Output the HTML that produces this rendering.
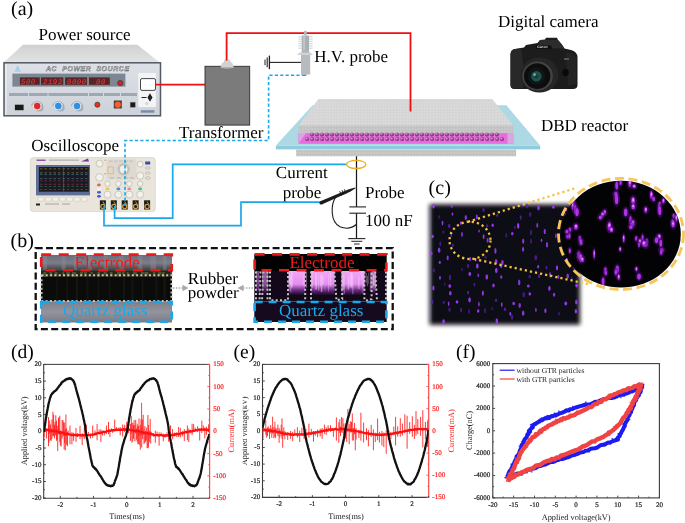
<!DOCTYPE html>
<html><head><meta charset="utf-8"><title>DBD experimental setup figure</title>
<style>
html,body{margin:0;padding:0;background:#fff;}
body{width:685px;height:523px;overflow:hidden;}
svg{display:block;font-family:'Liberation Serif',serif;text-rendering:geometricPrecision;}
</style></head>
<body>
<svg width="685" height="523" viewBox="0 0 685 523">
<defs>
<pattern id="chk" width="4.2" height="4.2" patternUnits="userSpaceOnUse" patternTransform="rotate(45)"><rect width="4.2" height="4.2" fill="#d3d3d3"/><rect width="2.1" height="2.1" fill="#dbdbdb"/><rect x="2.1" y="2.1" width="2.1" height="2.1" fill="#dbdbdb"/></pattern>
<pattern id="chk2" width="4.2" height="4.2" patternUnits="userSpaceOnUse" patternTransform="rotate(45)"><rect width="4.2" height="4.2" fill="#c0c0c0"/><rect width="2.1" height="2.1" fill="#cbcbcb"/><rect x="2.1" y="2.1" width="2.1" height="2.1" fill="#cbcbcb"/></pattern>
<radialGradient id="sph" cx="0.4" cy="0.35" r="0.7"><stop offset="0" stop-color="#d9a0d0"/><stop offset="0.5" stop-color="#9b4d92"/><stop offset="1" stop-color="#5e2558"/></radialGradient>
<linearGradient id="pstop" x1="0" y1="0" x2="0" y2="1"><stop offset="0" stop-color="#d0d0d0"/><stop offset="1" stop-color="#e4e4e4"/></linearGradient>
<linearGradient id="pfront" x1="0" y1="0" x2="0" y2="1"><stop offset="0" stop-color="#dde1e7"/><stop offset="1" stop-color="#cdd2d9"/></linearGradient>
<filter id="blur1" x="-10%" y="-10%" width="120%" height="120%"><feGaussianBlur stdDeviation="2"/></filter>
<filter id="blur05"><feGaussianBlur stdDeviation="0.5"/></filter>
<filter id="glow" x="-50%" y="-50%" width="200%" height="200%"><feGaussianBlur stdDeviation="0.6"/></filter>
<clipPath id="bigc"><ellipse cx="621" cy="234.2" rx="59.8" ry="53.4"/></clipPath>
<clipPath id="cimg"><rect x="429" y="204" width="151" height="121"/></clipPath>
</defs>
<text x="11" y="15.2" font-size="20" fill="#000" text-anchor="start" >(a)</text>
<text x="38.5" y="39.8" font-size="17" fill="#000" text-anchor="start" >Power source</text>
<text x="498" y="26.8" font-size="17" fill="#000" text-anchor="start" >Digital camera</text>
<text x="314.3" y="61.8" font-size="17" fill="#000" text-anchor="start" >H.V. probe</text>
<text x="179" y="137.7" font-size="17" fill="#000" text-anchor="start" >Transformer</text>
<text x="31.2" y="151.2" font-size="17" fill="#000" text-anchor="start" >Oscilloscope</text>
<text x="540.9" y="130.7" font-size="17" fill="#000" text-anchor="start" >DBD reactor</text>
<text x="275.8" y="177.7" font-size="17" fill="#000" text-anchor="start" >Current</text>
<text x="282.7" y="197.7" font-size="17" fill="#000" text-anchor="start" >probe</text>
<text x="365" y="197.7" font-size="17" fill="#000" text-anchor="start" >Probe</text>
<text x="365" y="226.3" font-size="17" fill="#000" text-anchor="start" >100 nF</text>
<polygon points="23,44.7 137.3,44.7 160.5,63 3,63" fill="url(#pstop)"/>
<rect x="4" y="62.8" width="156.5" height="53" fill="url(#pfront)" stroke="#535962" stroke-width="1.5"/>
<line x1="6" y1="64" x2="6" y2="115" stroke="#f2f4f6" stroke-width="1"/>
<polygon points="17.6,65 21,71.8 14.3,71.8" fill="#a9cfe8"/>
<text x="46" y="71.2" font-size="7" font-style="italic" font-weight="bold" fill="#c8ccd2" stroke="#555" stroke-width="0.35" letter-spacing="0.55" word-spacing="2.5" font-family="'Liberation Sans',sans-serif">AC POWER SOURCE</text>
<rect x="12.4" y="73.6" width="113" height="13" fill="#7d8794"/>
<rect x="19.9" y="77.4" width="19.8" height="7.4" fill="#5a2326"/>
<rect x="41" y="77.4" width="22.3" height="7.4" fill="#5a2326"/>
<rect x="65.1" y="77.4" width="21.9" height="7.4" fill="#5a2326"/>
<rect x="89" y="77.4" width="20.8" height="7.4" fill="#5a2326"/>
<text x="21" y="83.9" font-size="7.2" font-style="italic" fill="#ff3a3a" font-family="'Liberation Mono',monospace" letter-spacing="0.6">500</text>
<text x="43" y="83.9" font-size="7.2" font-style="italic" fill="#ff3a3a" font-family="'Liberation Mono',monospace" letter-spacing="0.6">2193</text>
<text x="67" y="83.9" font-size="7.2" font-style="italic" fill="#ff3a3a" font-family="'Liberation Mono',monospace" letter-spacing="0.6">0000</text>
<text x="96" y="83.9" font-size="7.2" font-style="italic" fill="#ff3a3a" font-family="'Liberation Mono',monospace" letter-spacing="0.6">00</text>
<circle cx="120.3" cy="83" r="2.6" fill="#e02020" stroke="#3a3a3a" stroke-width="0.8"/>
<rect x="9" y="93" width="19" height="3" fill="#9ea8b4"/>
<rect x="29" y="93" width="18.5" height="3" fill="#9ea8b4"/>
<rect x="48.5" y="93" width="39.5" height="3" fill="#9ea8b4"/>
<rect x="89" y="93" width="14" height="3" fill="#9ea8b4"/>
<rect x="104" y="93" width="16" height="3" fill="#9ea8b4"/>
<rect x="121" y="93" width="16" height="3" fill="#9ea8b4"/>
<ellipse cx="39.400000000000006" cy="108" rx="4.2" ry="3.6" fill="#8a8f96" opacity="0.55"/>
<path d="M31.6,106 A5.8,5.8 0 0 1 42.800000000000004,106" fill="none" stroke="#6a6f76" stroke-width="0.5"/>
<circle cx="37.2" cy="106" r="3.9" fill="#e02828" stroke="#f4f4f4" stroke-width="0.9"/>
<ellipse cx="60.5" cy="108" rx="4.2" ry="3.6" fill="#8a8f96" opacity="0.55"/>
<path d="M52.699999999999996,106 A5.8,5.8 0 0 1 63.9,106" fill="none" stroke="#6a6f76" stroke-width="0.5"/>
<circle cx="58.3" cy="106" r="3.9" fill="#2f8fe0" stroke="#f4f4f4" stroke-width="0.9"/>
<ellipse cx="79.2" cy="108" rx="4.2" ry="3.6" fill="#8a8f96" opacity="0.55"/>
<path d="M71.4,106 A5.8,5.8 0 0 1 82.6,106" fill="none" stroke="#6a6f76" stroke-width="0.5"/>
<circle cx="77" cy="106" r="3.9" fill="#2f8fe0" stroke="#f4f4f4" stroke-width="0.9"/>
<rect x="14.9" y="104.7" width="8.7" height="5.5" fill="#1a1a1a"/>
<circle cx="97.4" cy="104.7" r="2.6" fill="#e83020" stroke="#333" stroke-width="0.6"/>
<rect x="113.8" y="100.5" width="8" height="8" fill="#4a3a3a"/>
<circle cx="117.8" cy="104.7" r="3.1" fill="#ff5a2a"/>
<rect x="130.2" y="102.2" width="5" height="5" fill="#1a1a1a" stroke="#777" stroke-width="0.5"/>
<rect x="138.3" y="73" width="17.6" height="34.1" fill="#f4f4f4"/>
<rect x="140.5" y="78.6" width="15" height="11.8" rx="1.5" fill="#fff" stroke="#333" stroke-width="0.9"/>
<path d="M141.5,97.5 h5 M150,94.5 l1.5,2.5 h-3 z M150,100.5 l1.5,-2.5 h-3 z" stroke="#222" fill="#222" stroke-width="1.2"/>
<circle cx="146.8" cy="103.5" r="1" fill="none" stroke="#888" stroke-width="0.4"/>
<rect x="140.8" y="110.2" width="13.6" height="2.5" fill="#7a8aa8"/>
<line x1="155" y1="84.6" x2="205" y2="84.6" stroke="#f01010" stroke-width="1.8"/>
<rect x="205" y="66.3" width="44.7" height="58.8" fill="#7b7b7b" stroke="#2e2e2e" stroke-width="0.9"/>
<path d="M220.8,67.6 C220.8,64 222,62.6 223.8,61.9 L224.6,59.5 L229.8,59.5 L230.6,61.9 C232.4,62.6 233.6,64 233.6,67.6 Z" fill="#d2d2d2"/>
<path d="M220.8,66.2 C224,67.8 230,67.8 233.6,66.2 L233.6,67.6 C230,69 224,69 220.8,67.6 Z" fill="#b8b8b8"/>
<line x1="269.4" y1="62.4" x2="301" y2="62.4" stroke="#222" stroke-width="1.1"/>
<line x1="269.4" y1="55.6" x2="269.4" y2="69.2" stroke="#222" stroke-width="1.3"/>
<line x1="267.2" y1="57.6" x2="267.2" y2="67.2" stroke="#222" stroke-width="1.1"/>
<line x1="265.0" y1="59.6" x2="265.0" y2="65.2" stroke="#222" stroke-width="1"/>
<polygon points="312.6,105.2 506.3,105.2 540.2,145.6 275.9,145.6" fill="#acd9e4"/>
<rect x="275.9" y="145.6" width="264.3" height="3.8" fill="#8fcbdb"/>
<polygon points="318.4,98.9 492.3,98.9 513.3,125.8 298.5,125.8" fill="url(#chk)"/>
<rect x="298.5" y="125.4" width="214.8" height="7.9" fill="url(#chk2)"/>
<rect x="298.5" y="133.1" width="214.8" height="10.7" fill="#ea6ae2"/>
<polygon points="298.5,133.1 306,133.1 298.5,143.8" fill="#d9a6e0"/>
<rect x="507.5" y="133.1" width="5.8" height="10.7" fill="#d9a6e0"/>
<g fill="url(#sph)"><circle cx="311.9" cy="134.4" r="2"/><circle cx="316.9" cy="134.4" r="2"/><circle cx="321.9" cy="134.4" r="2"/><circle cx="326.9" cy="134.4" r="2"/><circle cx="331.9" cy="134.4" r="2"/><circle cx="336.9" cy="134.4" r="2"/><circle cx="341.9" cy="134.4" r="2"/><circle cx="346.9" cy="134.4" r="2"/><circle cx="351.9" cy="134.4" r="2"/><circle cx="356.9" cy="134.4" r="2"/><circle cx="361.9" cy="134.4" r="2"/><circle cx="366.9" cy="134.4" r="2"/><circle cx="371.9" cy="134.4" r="2"/><circle cx="376.9" cy="134.4" r="2"/><circle cx="381.9" cy="134.4" r="2"/><circle cx="386.9" cy="134.4" r="2"/><circle cx="391.9" cy="134.4" r="2"/><circle cx="396.9" cy="134.4" r="2"/><circle cx="401.9" cy="134.4" r="2"/><circle cx="406.9" cy="134.4" r="2"/><circle cx="411.9" cy="134.4" r="2"/><circle cx="416.9" cy="134.4" r="2"/><circle cx="421.9" cy="134.4" r="2"/><circle cx="426.9" cy="134.4" r="2"/><circle cx="431.9" cy="134.4" r="2"/><circle cx="436.9" cy="134.4" r="2"/><circle cx="441.9" cy="134.4" r="2"/><circle cx="446.9" cy="134.4" r="2"/><circle cx="451.9" cy="134.4" r="2"/><circle cx="456.9" cy="134.4" r="2"/><circle cx="461.9" cy="134.4" r="2"/><circle cx="466.9" cy="134.4" r="2"/><circle cx="471.9" cy="134.4" r="2"/><circle cx="476.9" cy="134.4" r="2"/><circle cx="481.9" cy="134.4" r="2"/><circle cx="486.9" cy="134.4" r="2"/><circle cx="491.9" cy="134.4" r="2"/><circle cx="496.9" cy="134.4" r="2"/><circle cx="307.1" cy="139.1" r="2"/><circle cx="312.1" cy="139.1" r="2"/><circle cx="317.1" cy="139.1" r="2"/><circle cx="322.1" cy="139.1" r="2"/><circle cx="327.1" cy="139.1" r="2"/><circle cx="332.1" cy="139.1" r="2"/><circle cx="337.1" cy="139.1" r="2"/><circle cx="342.1" cy="139.1" r="2"/><circle cx="347.1" cy="139.1" r="2"/><circle cx="352.1" cy="139.1" r="2"/><circle cx="357.1" cy="139.1" r="2"/><circle cx="362.1" cy="139.1" r="2"/><circle cx="367.1" cy="139.1" r="2"/><circle cx="372.1" cy="139.1" r="2"/><circle cx="377.1" cy="139.1" r="2"/><circle cx="382.1" cy="139.1" r="2"/><circle cx="387.1" cy="139.1" r="2"/><circle cx="392.1" cy="139.1" r="2"/><circle cx="397.1" cy="139.1" r="2"/><circle cx="402.1" cy="139.1" r="2"/><circle cx="407.1" cy="139.1" r="2"/><circle cx="412.1" cy="139.1" r="2"/><circle cx="417.1" cy="139.1" r="2"/><circle cx="422.1" cy="139.1" r="2"/><circle cx="427.1" cy="139.1" r="2"/><circle cx="432.1" cy="139.1" r="2"/><circle cx="437.1" cy="139.1" r="2"/><circle cx="442.1" cy="139.1" r="2"/><circle cx="447.1" cy="139.1" r="2"/><circle cx="452.1" cy="139.1" r="2"/><circle cx="457.1" cy="139.1" r="2"/><circle cx="462.1" cy="139.1" r="2"/><circle cx="467.1" cy="139.1" r="2"/><circle cx="472.1" cy="139.1" r="2"/><circle cx="477.1" cy="139.1" r="2"/><circle cx="482.1" cy="139.1" r="2"/><circle cx="487.1" cy="139.1" r="2"/><circle cx="492.1" cy="139.1" r="2"/><circle cx="497.1" cy="139.1" r="2"/><circle cx="502.1" cy="139.1" r="2"/></g>
<rect x="296.1" y="149.6" width="220" height="6.7" fill="url(#chk2)"/>
<polyline points="226.6,60.5 226.6,33.2 410.5,33.2 410.5,111.5" fill="none" stroke="#f01010" stroke-width="1.8"/>
<rect x="304" y="30.8" width="2.8" height="4.5" rx="1" fill="#b4b8bb"/>
<rect x="298.4" y="36.0" width="14.2" height="1.5" fill="#dde0e3"/>
<rect x="298.4" y="38.3" width="14.2" height="1.5" fill="#dde0e3"/>
<rect x="298.4" y="40.6" width="14.2" height="1.5" fill="#dde0e3"/>
<rect x="298.4" y="42.9" width="14.2" height="1.5" fill="#dde0e3"/>
<rect x="298.4" y="45.2" width="14.2" height="1.5" fill="#dde0e3"/>
<rect x="298.4" y="47.5" width="14.2" height="1.5" fill="#dde0e3"/>
<rect x="301.8" y="35.5" width="7.2" height="14.5" fill="#a9aeb2"/>
<rect x="302.8" y="35.5" width="2.5" height="14.5" fill="#bfc3c6"/>
<polygon points="297,55 313,55 310.5,52.6 299.5,52.6" fill="#cfd3d6"/>
<rect x="301.6" y="49.8" width="7.6" height="3" fill="#b0b5b9"/>
<rect x="301" y="55" width="9.2" height="19.5" fill="#b7bbbf"/>
<rect x="305" y="74.3" width="1.4" height="1.8" fill="#c08a4a"/>
<g>
<path d="M510.5,54 Q511,49.5 515,49 L524,47.5 L526,45 L537.5,43 L540,40 L545,39.5 L546,37.8 L557,37.8 L558,40 Q561,43 564.5,48.5 L571,50 Q577,51.5 577.5,57 L577.5,85 Q577.5,89 573,89 L515,89 Q510.5,89 510.5,85 Z" fill="#1c1c1c"/>
<path d="M510.5,54 Q511,49.5 515,49 L521,48.5 Q524,60 523,88 L515,89 Q510.5,89 510.5,85 Z" fill="#282828"/>
<path d="M540,40 L558,40 Q561,43 564.5,48.5 L537.5,48 Z" fill="#2c2c2c"/>
<path d="M566,52 Q574,53 576,58 L576,84 L568,86 Z" fill="#242424"/>
<rect x="536" y="45.6" width="15.5" height="3.2" fill="#0e0e0e"/>
<text x="537" y="48.3" font-size="3.4" font-weight="bold" fill="#d8d8d8" font-family="'Liberation Sans',sans-serif">Canon</text>
<rect x="564" y="58" width="5" height="2" fill="#555"/>
<ellipse cx="539.4" cy="75" rx="19" ry="17.6" fill="#262626"/>
<ellipse cx="537.6" cy="76" rx="15.2" ry="14.6" fill="#444"/>
<ellipse cx="537.2" cy="76.2" rx="13.2" ry="12.9" fill="#0d0d0d"/>
<ellipse cx="536.6" cy="76.2" rx="8.6" ry="8.6" fill="#0f1616"/>
<ellipse cx="536.4" cy="76.2" rx="5.2" ry="5.2" fill="#1d5250"/>
<circle cx="536.4" cy="76.4" r="2.2" fill="#2a3a2a"/>
<circle cx="534.6" cy="74.6" r="1.3" fill="#6bb"/>
<ellipse cx="565.5" cy="72.5" rx="3.2" ry="3.8" fill="#0a0a0a"/>
</g>
<rect x="30.3" y="157.6" width="125" height="54" rx="3" fill="#e9e5dc" stroke="#d0cbc0" stroke-width="0.6"/>
<rect x="36" y="165" width="54" height="30.4" fill="#5d6e96"/>
<rect x="38.9" y="167" width="49.9" height="24.7" fill="#1c1a20"/>
<rect x="36.6" y="159.5" width="9" height="1.5" fill="#8a5aa0"/>
<rect x="49" y="159.5" width="30" height="1.3" fill="#b8b0b8"/>
<polygon points="81,161.5 88,158.5 89,161.5" fill="#6a3a9a"/>
<line x1="40" y1="168.8" x2="88" y2="168.8" stroke="#e8d040" stroke-width="0.7" stroke-dasharray="2.5,2" opacity="0.55"/>
<line x1="40" y1="172.8" x2="88" y2="172.8" stroke="#e8d040" stroke-width="0.7" stroke-dasharray="2.5,2" opacity="0.55"/>
<line x1="40" y1="174.5" x2="88" y2="174.5" stroke="#40c0e0" stroke-width="0.7" stroke-dasharray="2.5,2" opacity="0.55"/>
<line x1="40" y1="178.5" x2="88" y2="178.5" stroke="#40c0e0" stroke-width="0.7" stroke-dasharray="2.5,2" opacity="0.55"/>
<line x1="40" y1="180.8" x2="88" y2="180.8" stroke="#e04080" stroke-width="0.7" stroke-dasharray="2.5,2" opacity="0.55"/>
<line x1="40" y1="184.3" x2="88" y2="184.3" stroke="#e04080" stroke-width="0.7" stroke-dasharray="2.5,2" opacity="0.55"/>
<line x1="40" y1="186.6" x2="88" y2="186.6" stroke="#40c060" stroke-width="0.7" stroke-dasharray="2.5,2" opacity="0.55"/>
<line x1="40" y1="189.4" x2="88" y2="189.4" stroke="#40c060" stroke-width="0.7" stroke-dasharray="2.5,2" opacity="0.55"/>
<line x1="63.5" y1="167" x2="63.5" y2="191.7" stroke="#777" stroke-width="0.4"/>
<rect x="38.0" y="197.2" width="6" height="4" rx="0.8" fill="#f3f0ea" stroke="#c9c3b6" stroke-width="0.5"/>
<rect x="45.2" y="197.2" width="6" height="4" rx="0.8" fill="#f3f0ea" stroke="#c9c3b6" stroke-width="0.5"/>
<rect x="52.4" y="197.2" width="6" height="4" rx="0.8" fill="#f3f0ea" stroke="#c9c3b6" stroke-width="0.5"/>
<rect x="59.6" y="197.2" width="6" height="4" rx="0.8" fill="#f3f0ea" stroke="#c9c3b6" stroke-width="0.5"/>
<rect x="66.8" y="197.2" width="6" height="4" rx="0.8" fill="#f3f0ea" stroke="#c9c3b6" stroke-width="0.5"/>
<rect x="74.0" y="197.2" width="6" height="4" rx="0.8" fill="#f3f0ea" stroke="#c9c3b6" stroke-width="0.5"/>
<rect x="81.2" y="197.2" width="6" height="4" rx="0.8" fill="#f3f0ea" stroke="#c9c3b6" stroke-width="0.5"/>
<rect x="36" y="203.5" width="4" height="2" fill="#222"/>
<path d="M45,204 h14 M62,204 h8" stroke="#9a948a" stroke-width="0.8"/>
<rect x="106.5" y="159.3" width="30" height="20.5" rx="2" fill="#dedad2"/>
<circle cx="123.6" cy="169.3" r="6.3" fill="#c9c5bd"/>
<circle cx="123.6" cy="169.3" r="4.4" fill="#f2f0eb" stroke="#a9a49a" stroke-width="0.6"/>
<rect x="108" y="167" width="5.2" height="6.9" fill="none" stroke="#e0a060" stroke-width="0.6"/>
<circle cx="105.2" cy="160.2" r="0.7" fill="#e08030"/><circle cx="105.2" cy="173.8" r="0.7" fill="#e08030"/>
<rect x="109" y="160.2" width="4" height="2" rx="0.8" fill="#cfcac0"/>
<rect x="114" y="160.2" width="4" height="2" rx="0.8" fill="#cfcac0"/>
<rect x="119" y="160.2" width="4" height="2" rx="0.8" fill="#cfcac0"/>
<rect x="124" y="160.2" width="4" height="2" rx="0.8" fill="#cfcac0"/>
<rect x="129" y="160.2" width="4" height="2" rx="0.8" fill="#cfcac0"/>
<rect x="109.8" y="177" width="4.4" height="1.8" rx="0.8" fill="#c8c3b8"/>
<rect x="116.8" y="177" width="4.4" height="1.8" rx="0.8" fill="#c8c3b8"/>
<rect x="123.8" y="177" width="4.4" height="1.8" rx="0.8" fill="#c8c3b8"/>
<rect x="129.8" y="177" width="4.4" height="1.8" rx="0.8" fill="#c8c3b8"/>
<circle cx="99.5" cy="163.6" r="3.4" fill="#f3f1ec" stroke="#b3ada0" stroke-width="0.6"/>
<circle cx="99.5" cy="177.4" r="3.8" fill="#f3f1ec" stroke="#b3ada0" stroke-width="0.6"/>
<circle cx="140.2" cy="164.2" r="3" fill="#f3f1ec" stroke="#b3ada0" stroke-width="0.6"/>
<circle cx="140.2" cy="175.7" r="3.6" fill="#f3f1ec" stroke="#b3ada0" stroke-width="0.6"/>
<circle cx="107.5" cy="183.7" r="2.7" fill="#f3f1ec" stroke="#b3ada0" stroke-width="0.6"/>
<circle cx="118.4" cy="183.7" r="2.7" fill="#f3f1ec" stroke="#b3ada0" stroke-width="0.6"/>
<circle cx="129.3" cy="183.7" r="2.7" fill="#f3f1ec" stroke="#b3ada0" stroke-width="0.6"/>
<circle cx="140.2" cy="183.7" r="2.7" fill="#f3f1ec" stroke="#b3ada0" stroke-width="0.6"/>
<circle cx="107.5" cy="194.6" r="3.5" fill="#f3f1ec" stroke="#b3ada0" stroke-width="0.6"/>
<circle cx="118.4" cy="194.6" r="3.5" fill="#f3f1ec" stroke="#b3ada0" stroke-width="0.6"/>
<circle cx="129.3" cy="194.6" r="3.5" fill="#f3f1ec" stroke="#b3ada0" stroke-width="0.6"/>
<circle cx="140.2" cy="194.6" r="3.5" fill="#f3f1ec" stroke="#b3ada0" stroke-width="0.6"/>
<ellipse cx="98.9" cy="185" rx="2" ry="1.4" fill="#e06a5a"/>
<ellipse cx="98.9" cy="188.9" rx="2" ry="1.4" fill="#f4f2ee"/>
<ellipse cx="107.5" cy="188.9" rx="2" ry="1.4" fill="#e8d040"/>
<ellipse cx="118.4" cy="188.9" rx="2" ry="1.4" fill="#4a8ae0"/>
<ellipse cx="129.3" cy="188.9" rx="2" ry="1.4" fill="#e090a0"/>
<ellipse cx="140.2" cy="188.9" rx="2" ry="1.4" fill="#40c0a0"/>
<ellipse cx="99" cy="192.3" rx="2" ry="1.4" fill="#4a5ad0"/>
<ellipse cx="99" cy="196.3" rx="2" ry="1.4" fill="#4a5ad0"/>
<ellipse cx="147.7" cy="168" rx="2.4" ry="1.3" fill="#e4e0d8" stroke="#a8a296" stroke-width="0.5"/>
<ellipse cx="147.7" cy="173" rx="2.4" ry="1.3" fill="#e4e0d8" stroke="#a8a296" stroke-width="0.5"/>
<ellipse cx="147.7" cy="178" rx="2.4" ry="1.3" fill="#e4e0d8" stroke="#a8a296" stroke-width="0.5"/>
<rect x="145.2" y="161.5" width="5" height="3" fill="#3a4ab0"/>
<rect x="99.9" y="200.3" width="6" height="9.2" fill="#1d1a14"/>
<circle cx="102.9" cy="206.4" r="2.1" fill="none" stroke="#c8a050" stroke-width="1.2"/>
<line x1="102.9" y1="201.5" x2="104.7" y2="204.5" stroke="#c8a050" stroke-width="0.9"/>
<rect x="110.8" y="200.3" width="6" height="9.2" fill="#1d1a14"/>
<circle cx="113.8" cy="206.4" r="2.1" fill="none" stroke="#c8a050" stroke-width="1.2"/>
<line x1="113.8" y1="201.5" x2="115.6" y2="204.5" stroke="#c8a050" stroke-width="0.9"/>
<rect x="121.7" y="200.3" width="6" height="9.2" fill="#1d1a14"/>
<circle cx="124.7" cy="206.4" r="2.1" fill="none" stroke="#c8a050" stroke-width="1.2"/>
<line x1="124.7" y1="201.5" x2="126.5" y2="204.5" stroke="#c8a050" stroke-width="0.9"/>
<rect x="132.6" y="200.3" width="6" height="9.2" fill="#1d1a14"/>
<circle cx="135.6" cy="206.4" r="2.1" fill="none" stroke="#c8a050" stroke-width="1.2"/>
<line x1="135.6" y1="201.5" x2="137.4" y2="204.5" stroke="#c8a050" stroke-width="0.9"/>
<rect x="144.1" y="200.3" width="6" height="9.2" fill="#1d1a14"/>
<circle cx="147.1" cy="206.4" r="2.1" fill="none" stroke="#c8a050" stroke-width="1.2"/>
<line x1="147.1" y1="201.5" x2="148.9" y2="204.5" stroke="#c8a050" stroke-width="0.9"/>
<polyline points="305,75.2 268.6,75.2 268.6,140.5 125,140.5 125,206" fill="none" stroke="#1aa8e8" stroke-width="1.6" stroke-dasharray="3.2,2.2"/>
<polyline points="114.6,206 114.6,218.2 172.7,218.2 172.7,164.4 346.5,164.4" fill="none" stroke="#1aa8e8" stroke-width="1.7"/>
<polyline points="104,206 104,225.7 241,225.7 241,202.2 321.5,202.2" fill="none" stroke="#1aa8e8" stroke-width="1.7"/>
<line x1="356.5" y1="156.3" x2="356.5" y2="206.9" stroke="#1a1a1a" stroke-width="1.25"/>
<line x1="356.5" y1="213.2" x2="356.5" y2="238.6" stroke="#1a1a1a" stroke-width="1.25"/>
<line x1="349.3" y1="206.9" x2="366" y2="206.9" stroke="#222" stroke-width="1.1"/>
<line x1="349.3" y1="213.2" x2="366" y2="213.2" stroke="#222" stroke-width="1.1"/>
<line x1="348.3" y1="238.6" x2="365.3" y2="238.6" stroke="#222" stroke-width="1.1"/>
<line x1="351.3" y1="241.3" x2="362.3" y2="241.3" stroke="#222" stroke-width="1"/>
<line x1="354" y1="244" x2="359.6" y2="244" stroke="#222" stroke-width="1"/>
<ellipse cx="356.2" cy="164.4" rx="9.6" ry="4.1" fill="none" stroke="#e8b020" stroke-width="1.3"/>
<path d="M320.3,201.15 L348.9,189.2 L355.2,187.5 L355.6,188.3 L350.1,191.7 L321.7,204.45 Z" fill="#1c1c1c"/>
<circle cx="321" cy="202.9" r="1.65" fill="#1c1c1c"/>
<path d="M339.7,191.2 l1.9,4.4 M342,190.2 l1.9,4.4 M344.3,189.3 l1.9,4.4" stroke="#111" stroke-width="0.9"/>
<path d="M336.4,196 C330,205 330.5,222 340,226.8 C346,229.2 352.5,228 356.8,224" fill="none" stroke="#1a1a1a" stroke-width="1.1"/>
<text x="10.5" y="246.6" font-size="20" fill="#000" text-anchor="start" >(b)</text>
<defs>
<linearGradient id="lel" x1="0" y1="0" x2="0" y2="1"><stop offset="0" stop-color="#6c6d78"/><stop offset="0.5" stop-color="#7c7d88"/><stop offset="1" stop-color="#3a3a38"/></linearGradient>
<linearGradient id="lqz" x1="0" y1="0" x2="0" y2="1"><stop offset="0" stop-color="#7e7f8a"/><stop offset="0.5" stop-color="#93949e"/><stop offset="1" stop-color="#7a7b86"/></linearGradient>
<linearGradient id="rmid" x1="0" y1="0" x2="0" y2="1"><stop offset="0" stop-color="#f3a6f5"/><stop offset="0.55" stop-color="#e48ef0"/><stop offset="0.8" stop-color="#6a2a80"/><stop offset="1" stop-color="#1a0a22"/></linearGradient>
</defs>
<rect x="41" y="255" width="131" height="16" fill="url(#lel)"/>
<rect x="41" y="271" width="131" height="30.5" fill="#0b0b09"/>
<rect x="41" y="271" width="131" height="6" fill="#2a2a18" opacity="0.9"/>
<rect x="43.4" y="272" width="2.9" height="4.8" fill="#6a6438" opacity="0.7"/>
<rect x="49.4" y="272" width="2.8" height="3.8" fill="#6a6438" opacity="0.7"/>
<rect x="54.6" y="272" width="2.8" height="3.9" fill="#6a6438" opacity="0.7"/>
<rect x="62.4" y="272" width="1.7" height="2.9" fill="#6a6438" opacity="0.7"/>
<rect x="66.3" y="272" width="3.5" height="4.1" fill="#6a6438" opacity="0.7"/>
<rect x="72.1" y="272" width="4.0" height="4.9" fill="#6a6438" opacity="0.7"/>
<rect x="80.0" y="272" width="3.0" height="2.5" fill="#6a6438" opacity="0.7"/>
<rect x="84.0" y="272" width="2.8" height="2.2" fill="#6a6438" opacity="0.7"/>
<rect x="90.6" y="272" width="2.1" height="2.1" fill="#6a6438" opacity="0.7"/>
<rect x="97.4" y="272" width="2.6" height="4.5" fill="#6a6438" opacity="0.7"/>
<rect x="103.6" y="272" width="3.1" height="3.5" fill="#6a6438" opacity="0.7"/>
<rect x="110.0" y="272" width="2.6" height="2.8" fill="#6a6438" opacity="0.7"/>
<rect x="117.0" y="272" width="4.0" height="4.5" fill="#6a6438" opacity="0.7"/>
<rect x="122.1" y="272" width="2.3" height="2.7" fill="#6a6438" opacity="0.7"/>
<rect x="126.9" y="272" width="1.7" height="4.3" fill="#6a6438" opacity="0.7"/>
<rect x="133.2" y="272" width="3.6" height="3.2" fill="#6a6438" opacity="0.7"/>
<rect x="140.9" y="272" width="3.6" height="2.0" fill="#6a6438" opacity="0.7"/>
<rect x="144.6" y="272" width="3.8" height="3.4" fill="#6a6438" opacity="0.7"/>
<rect x="152.9" y="272" width="2.5" height="2.2" fill="#6a6438" opacity="0.7"/>
<rect x="157.9" y="272" width="3.4" height="2.8" fill="#6a6438" opacity="0.7"/>
<rect x="162.3" y="272" width="2.3" height="4.9" fill="#6a6438" opacity="0.7"/>
<rect x="170.3" y="272" width="1.8" height="2.7" fill="#6a6438" opacity="0.7"/>
<rect x="42.4" y="277" width="1.1" height="23" fill="#1a1a1a" opacity="0.6"/>
<rect x="56.2" y="277" width="1.3" height="23" fill="#1a1a1a" opacity="0.6"/>
<rect x="66.2" y="277" width="1.7" height="23" fill="#1a1a1a" opacity="0.6"/>
<rect x="75.8" y="277" width="2.1" height="23" fill="#1a1a1a" opacity="0.6"/>
<rect x="86.5" y="277" width="2.0" height="23" fill="#1a1a1a" opacity="0.6"/>
<rect x="97.5" y="277" width="1.6" height="23" fill="#1a1a1a" opacity="0.6"/>
<rect x="108.9" y="277" width="1.4" height="23" fill="#1a1a1a" opacity="0.6"/>
<rect x="122.9" y="277" width="2.2" height="23" fill="#1a1a1a" opacity="0.6"/>
<rect x="131.2" y="277" width="2.3" height="23" fill="#1a1a1a" opacity="0.6"/>
<rect x="141.8" y="277" width="1.6" height="23" fill="#1a1a1a" opacity="0.6"/>
<rect x="155.4" y="277" width="2.0" height="23" fill="#1a1a1a" opacity="0.6"/>
<rect x="163.4" y="277" width="2.5" height="23" fill="#1a1a1a" opacity="0.6"/>
<rect x="41" y="301.5" width="131" height="21" fill="url(#lqz)"/>
<rect x="43.3" y="256" width="3.8" height="14" fill="#8a8b96" opacity="0.45"/>
<rect x="61.6" y="256" width="4.0" height="14" fill="#8a8b96" opacity="0.45"/>
<rect x="73.8" y="256" width="3.2" height="14" fill="#8a8b96" opacity="0.45"/>
<rect x="87.5" y="256" width="4.7" height="14" fill="#8a8b96" opacity="0.45"/>
<rect x="103.5" y="256" width="4.8" height="14" fill="#8a8b96" opacity="0.45"/>
<rect x="119.2" y="256" width="4.4" height="14" fill="#8a8b96" opacity="0.45"/>
<rect x="137.8" y="256" width="4.5" height="14" fill="#8a8b96" opacity="0.45"/>
<rect x="150.4" y="256" width="5.6" height="14" fill="#8a8b96" opacity="0.45"/>
<rect x="163.1" y="256" width="3.5" height="14" fill="#8a8b96" opacity="0.45"/>
<rect x="254.3" y="254" width="132.4" height="17" fill="#030203"/>
<rect x="254.3" y="271" width="132.4" height="30.5" fill="#12081a"/>
<rect x="288.5" y="271" width="16.5" height="24" fill="url(#rmid)" opacity="1"/>
<rect x="311" y="271" width="23.5" height="24" fill="url(#rmid)" opacity="1"/>
<rect x="342" y="271" width="22.5" height="24" fill="url(#rmid)" opacity="1"/>
<rect x="371.5" y="271" width="4.0" height="24" fill="url(#rmid)" opacity="0.7"/>
<rect x="262" y="271" width="6" height="24" fill="url(#rmid)" opacity="0.55"/>
<rect x="256" y="271" width="3" height="24" fill="url(#rmid)" opacity="0.4"/>
<rect x="367.0" y="275.9" width="0.8" height="10.3" fill="#ffd8ff" opacity="0.42"/>
<rect x="369.8" y="272.2" width="1.6" height="18.6" fill="#ffd8ff" opacity="0.38"/>
<rect x="324.7" y="271.6" width="0.6" height="19.6" fill="#ffd8ff" opacity="0.27"/>
<rect x="349.3" y="272.5" width="1.4" height="15.2" fill="#ffd8ff" opacity="0.29"/>
<rect x="303.3" y="275.3" width="0.7" height="10.7" fill="#ffd8ff" opacity="0.37"/>
<rect x="362.2" y="274.7" width="0.9" height="19.0" fill="#ffd8ff" opacity="0.26"/>
<rect x="289.4" y="272.6" width="1.0" height="8.7" fill="#ffd8ff" opacity="0.25"/>
<rect x="320.1" y="274.4" width="0.7" height="12.3" fill="#ffd8ff" opacity="0.47"/>
<rect x="373.3" y="274.9" width="1.3" height="15.0" fill="#ffd8ff" opacity="0.24"/>
<rect x="291.1" y="271.1" width="1.5" height="16.4" fill="#ffd8ff" opacity="0.49"/>
<rect x="289.8" y="274.8" width="1.1" height="16.8" fill="#ffd8ff" opacity="0.30"/>
<rect x="374.9" y="271.5" width="1.1" height="16.8" fill="#ffd8ff" opacity="0.47"/>
<rect x="352.1" y="275.2" width="1.4" height="19.0" fill="#ffd8ff" opacity="0.31"/>
<rect x="347.6" y="276.4" width="1.5" height="13.0" fill="#ffd8ff" opacity="0.44"/>
<rect x="363.1" y="274.4" width="1.2" height="12.6" fill="#ffd8ff" opacity="0.37"/>
<rect x="341.0" y="271.5" width="1.2" height="19.9" fill="#ffd8ff" opacity="0.46"/>
<rect x="351.4" y="273.3" width="1.3" height="15.0" fill="#ffd8ff" opacity="0.33"/>
<rect x="360.9" y="271.5" width="1.4" height="8.4" fill="#ffd8ff" opacity="0.38"/>
<rect x="329.8" y="272.4" width="1.3" height="14.0" fill="#ffd8ff" opacity="0.38"/>
<rect x="368.1" y="272.5" width="0.6" height="11.6" fill="#ffd8ff" opacity="0.40"/>
<rect x="305.6" y="272.0" width="1.5" height="15.9" fill="#ffd8ff" opacity="0.33"/>
<rect x="365.6" y="273.0" width="1.3" height="10.4" fill="#ffd8ff" opacity="0.33"/>
<rect x="358.1" y="276.5" width="1.5" height="12.6" fill="#ffd8ff" opacity="0.37"/>
<rect x="315.5" y="271.8" width="1.1" height="18.0" fill="#ffd8ff" opacity="0.45"/>
<rect x="349.9" y="276.7" width="0.9" height="10.0" fill="#ffd8ff" opacity="0.34"/>
<rect x="311.9" y="272.3" width="1.0" height="15.5" fill="#ffd8ff" opacity="0.35"/>
<rect x="315.4" y="276.0" width="1.6" height="13.4" fill="#ffd8ff" opacity="0.22"/>
<rect x="290.7" y="276.2" width="0.6" height="16.5" fill="#ffd8ff" opacity="0.37"/>
<rect x="314.9" y="275.7" width="0.6" height="9.6" fill="#ffd8ff" opacity="0.34"/>
<rect x="290.2" y="276.0" width="0.8" height="9.7" fill="#ffd8ff" opacity="0.21"/>
<rect x="342.7" y="273.7" width="1.2" height="15.9" fill="#ffd8ff" opacity="0.44"/>
<rect x="371.4" y="275.1" width="0.8" height="13.7" fill="#ffd8ff" opacity="0.25"/>
<rect x="288.9" y="273.8" width="1.3" height="10.1" fill="#ffd8ff" opacity="0.28"/>
<rect x="318.1" y="275.2" width="1.1" height="15.4" fill="#ffd8ff" opacity="0.43"/>
<rect x="322.2" y="275.8" width="1.5" height="9.0" fill="#ffd8ff" opacity="0.48"/>
<rect x="350.8" y="271.8" width="1.1" height="15.5" fill="#ffd8ff" opacity="0.47"/>
<rect x="320.8" y="274.4" width="1.5" height="17.6" fill="#ffd8ff" opacity="0.48"/>
<rect x="328.3" y="274.9" width="0.8" height="16.7" fill="#ffd8ff" opacity="0.45"/>
<rect x="343.8" y="275.3" width="0.8" height="18.8" fill="#ffd8ff" opacity="0.49"/>
<rect x="373.0" y="274.2" width="1.4" height="11.8" fill="#ffd8ff" opacity="0.47"/>
<rect x="254.3" y="301.5" width="132.4" height="20.5" fill="#160a1e"/>
<rect x="41.5" y="275.3" width="130" height="25.6" fill="none" stroke="#c4c4c4" stroke-width="2" stroke-dasharray="2,2.3"/>
<path d="M256,271.5 V301 M260.5,271.5 L259.5,301 M263.5,271.5 L262,301 M267.5,271.5 V300 M270,271.5 V300.2 H288 V271.5 M305.2,271.5 V301 M311,271.5 V301 M334.3,271.5 L336.5,300.2 L342.2,299 V271.5 M364.4,271.5 V300 L368,300.5 L371.6,299 V271.5 M375.2,271.5 L377,300.5 M386,271.5 V301" fill="none" stroke="#c4c4c4" stroke-width="2" stroke-dasharray="2,2.3"/>
<path d="M258,273 l2,6 M258,280 l2,6 M258,287 l2,6 M264,273 l-1,6 M264,280 l-1,6" stroke="#a050c0" stroke-width="0.8"/>
<rect x="41.2" y="254.6" width="130.6" height="15.6" fill="none" stroke="#f01818" stroke-width="2.6" stroke-dasharray="10,7.5"/>
<rect x="254.6" y="254.4" width="131.8" height="15.8" fill="none" stroke="#f01818" stroke-width="2.6" stroke-dasharray="10,7.5"/>
<rect x="41.2" y="302" width="130.6" height="19.8" fill="none" stroke="#18a8ec" stroke-width="2.6" stroke-dasharray="8,6"/>
<rect x="254.6" y="302" width="131.8" height="19.8" fill="none" stroke="#18a8ec" stroke-width="2.6" stroke-dasharray="8,6"/>
<text x="74.6" y="268" font-size="17" fill="#f01818" text-anchor="start" >Electrode</text>
<text x="289.4" y="268" font-size="17" fill="#f01818" text-anchor="start" >Electrode</text>
<text x="63" y="316" font-size="17" fill="#18a8ec" text-anchor="start" >Quartz glass</text>
<text x="278.9" y="316" font-size="17" fill="#18a8ec" text-anchor="start" >Quartz glass</text>
<text x="187.8" y="284.4" font-size="17" fill="#000" text-anchor="start" >Rubber</text>
<text x="187.8" y="298.4" font-size="17" fill="#000" text-anchor="start" >powder</text>
<line x1="173" y1="288" x2="183" y2="288" stroke="#a8a8a8" stroke-width="1.4" stroke-dasharray="1.4,1.4"/>
<polygon points="182.5,284.8 188.5,288 182.5,291.2" fill="#a8a8a8"/>
<line x1="253" y1="288" x2="243" y2="288" stroke="#a8a8a8" stroke-width="1.4" stroke-dasharray="1.4,1.4"/>
<polygon points="243.5,284.8 237.5,288 243.5,291.2" fill="#a8a8a8"/>
<rect x="35.7" y="248.1" width="357" height="81" fill="none" stroke="#111" stroke-width="2.3" stroke-dasharray="7,3.3"/>
<text x="428.6" y="193.7" font-size="20" fill="#000" text-anchor="start" >(c)</text>
<rect x="429.5" y="204.3" width="150.5" height="120.4" fill="#0a0812" filter="url(#blur1)"/>
<rect x="428.5" y="206" width="2.5" height="116" fill="#c8b8e8" opacity="0.35" filter="url(#blur1)"/>
<g clip-path="url(#cimg)" filter="url(#glow)"><ellipse cx="433.5" cy="206.2" rx="1.1" ry="2.4" fill="#9c3af6" opacity="0.99"/><ellipse cx="451.8" cy="206.3" rx="0.9" ry="1.6" fill="#9c3af6" opacity="0.86"/><ellipse cx="483.5" cy="209.9" rx="1.3" ry="2.0" fill="#5c22b4" opacity="0.73"/><ellipse cx="522.2" cy="205.1" rx="0.8" ry="1.7" fill="#5c22b4" opacity="0.55"/><ellipse cx="527.2" cy="205.9" rx="1.0" ry="2.3" fill="#5c22b4" opacity="0.75"/><ellipse cx="538.5" cy="208.0" rx="1.3" ry="2.4" fill="#9c3af6" opacity="0.90"/><ellipse cx="553.4" cy="207.1" rx="1.3" ry="1.7" fill="#9c3af6" opacity="0.98"/><ellipse cx="566.2" cy="209.6" rx="0.9" ry="1.7" fill="#9c3af6" opacity="0.97"/><ellipse cx="575.6" cy="209.4" rx="1.3" ry="1.7" fill="#9c3af6" opacity="0.92"/><ellipse cx="439.2" cy="216.9" rx="0.8" ry="1.9" fill="#5c22b4" opacity="0.62"/><ellipse cx="452.5" cy="214.1" rx="0.9" ry="1.6" fill="#9c3af6" opacity="0.89"/><ellipse cx="465.8" cy="217.5" rx="1.2" ry="2.6" fill="#9c3af6" opacity="0.85"/><ellipse cx="476.8" cy="217.0" rx="1.0" ry="2.4" fill="#9c3af6" opacity="0.89"/><ellipse cx="497.2" cy="215.3" rx="1.0" ry="1.6" fill="#5c22b4" opacity="0.81"/><ellipse cx="520.7" cy="217.6" rx="1.0" ry="2.4" fill="#5c22b4" opacity="0.74"/><ellipse cx="530.1" cy="214.4" rx="1.2" ry="2.5" fill="#5c22b4" opacity="0.61"/><ellipse cx="566.0" cy="215.2" rx="1.3" ry="2.1" fill="#9c3af6" opacity="0.99"/><ellipse cx="442.5" cy="223.1" rx="0.8" ry="2.4" fill="#9c3af6" opacity="0.98"/><ellipse cx="449.2" cy="226.0" rx="1.3" ry="1.9" fill="#5c22b4" opacity="0.84"/><ellipse cx="460.8" cy="223.1" rx="1.0" ry="1.8" fill="#9c3af6" opacity="0.91"/><ellipse cx="487.2" cy="225.7" rx="1.1" ry="1.5" fill="#5c22b4" opacity="0.82"/><ellipse cx="492.7" cy="225.3" rx="1.1" ry="1.8" fill="#9c3af6" opacity="0.99"/><ellipse cx="514.8" cy="227.6" rx="0.9" ry="1.6" fill="#5c22b4" opacity="0.67"/><ellipse cx="518.2" cy="225.9" rx="1.2" ry="2.8" fill="#9c3af6" opacity="1.00"/><ellipse cx="537.3" cy="225.4" rx="0.9" ry="2.4" fill="#9c3af6" opacity="0.89"/><ellipse cx="558.3" cy="227.7" rx="1.0" ry="1.5" fill="#9c3af6" opacity="0.99"/><ellipse cx="432.6" cy="236.4" rx="1.3" ry="1.7" fill="#9c3af6" opacity="0.96"/><ellipse cx="443.5" cy="232.1" rx="1.3" ry="1.7" fill="#5c22b4" opacity="0.51"/><ellipse cx="451.2" cy="234.8" rx="1.0" ry="2.5" fill="#5c22b4" opacity="0.74"/><ellipse cx="462.0" cy="234.5" rx="0.8" ry="2.4" fill="#9c3af6" opacity="0.98"/><ellipse cx="479.1" cy="231.1" rx="0.8" ry="1.5" fill="#9c3af6" opacity="0.86"/><ellipse cx="483.6" cy="236.7" rx="0.9" ry="2.4" fill="#9c3af6" opacity="0.99"/><ellipse cx="506.2" cy="235.2" rx="1.0" ry="2.5" fill="#5c22b4" opacity="0.60"/><ellipse cx="512.3" cy="233.7" rx="1.3" ry="1.6" fill="#9c3af6" opacity="0.91"/><ellipse cx="531.0" cy="232.5" rx="0.9" ry="2.7" fill="#5c22b4" opacity="0.72"/><ellipse cx="544.8" cy="231.4" rx="1.1" ry="2.7" fill="#9c3af6" opacity="0.86"/><ellipse cx="555.9" cy="235.7" rx="0.8" ry="2.5" fill="#9c3af6" opacity="0.87"/><ellipse cx="567.2" cy="235.9" rx="1.4" ry="2.5" fill="#9c3af6" opacity="0.93"/><ellipse cx="440.3" cy="243.7" rx="1.0" ry="2.2" fill="#5c22b4" opacity="0.70"/><ellipse cx="452.9" cy="245.3" rx="0.9" ry="1.7" fill="#5c22b4" opacity="0.76"/><ellipse cx="487.6" cy="240.4" rx="1.0" ry="2.4" fill="#9c3af6" opacity="0.86"/><ellipse cx="523.2" cy="241.3" rx="1.0" ry="2.7" fill="#9c3af6" opacity="0.94"/><ellipse cx="531.0" cy="241.3" rx="1.0" ry="2.7" fill="#5c22b4" opacity="0.60"/><ellipse cx="541.5" cy="240.3" rx="0.8" ry="1.6" fill="#9c3af6" opacity="0.96"/><ellipse cx="547.0" cy="244.7" rx="1.1" ry="2.7" fill="#9c3af6" opacity="0.89"/><ellipse cx="566.1" cy="244.6" rx="0.9" ry="1.7" fill="#9c3af6" opacity="0.85"/><ellipse cx="574.4" cy="241.8" rx="1.2" ry="2.4" fill="#9c3af6" opacity="0.94"/><ellipse cx="431.2" cy="253.4" rx="1.3" ry="1.7" fill="#9c3af6" opacity="0.97"/><ellipse cx="439.1" cy="250.2" rx="1.3" ry="2.6" fill="#9c3af6" opacity="0.88"/><ellipse cx="495.4" cy="250.9" rx="1.1" ry="2.8" fill="#9c3af6" opacity="0.90"/><ellipse cx="523.1" cy="249.2" rx="1.0" ry="2.5" fill="#9c3af6" opacity="0.93"/><ellipse cx="439.8" cy="262.4" rx="1.1" ry="1.7" fill="#9c3af6" opacity="0.86"/><ellipse cx="447.7" cy="257.9" rx="1.0" ry="2.3" fill="#9c3af6" opacity="0.93"/><ellipse cx="470.1" cy="258.9" rx="1.0" ry="2.2" fill="#9c3af6" opacity="0.90"/><ellipse cx="475.6" cy="259.9" rx="0.9" ry="1.5" fill="#9c3af6" opacity="0.86"/><ellipse cx="485.7" cy="257.3" rx="1.1" ry="1.9" fill="#5c22b4" opacity="0.56"/><ellipse cx="496.1" cy="261.5" rx="1.3" ry="2.6" fill="#9c3af6" opacity="0.92"/><ellipse cx="502.4" cy="262.5" rx="1.3" ry="2.4" fill="#9c3af6" opacity="0.87"/><ellipse cx="535.8" cy="257.6" rx="1.4" ry="2.6" fill="#5c22b4" opacity="0.75"/><ellipse cx="566.9" cy="260.3" rx="1.3" ry="2.2" fill="#9c3af6" opacity="0.98"/><ellipse cx="434.0" cy="270.3" rx="1.1" ry="2.1" fill="#5c22b4" opacity="0.59"/><ellipse cx="461.9" cy="269.5" rx="1.0" ry="1.9" fill="#5c22b4" opacity="0.50"/><ellipse cx="468.1" cy="265.9" rx="1.2" ry="2.1" fill="#5c22b4" opacity="0.71"/><ellipse cx="477.3" cy="265.9" rx="1.3" ry="2.5" fill="#9c3af6" opacity="0.98"/><ellipse cx="496.3" cy="270.4" rx="1.3" ry="2.6" fill="#9c3af6" opacity="0.94"/><ellipse cx="501.1" cy="265.6" rx="1.2" ry="2.3" fill="#9c3af6" opacity="1.00"/><ellipse cx="538.2" cy="266.8" rx="1.0" ry="1.7" fill="#9c3af6" opacity="0.97"/><ellipse cx="546.5" cy="267.8" rx="1.0" ry="1.7" fill="#5c22b4" opacity="0.83"/><ellipse cx="557.0" cy="267.8" rx="1.1" ry="2.6" fill="#9c3af6" opacity="0.95"/><ellipse cx="573.7" cy="268.5" rx="1.1" ry="1.9" fill="#5c22b4" opacity="0.54"/><ellipse cx="440.0" cy="277.9" rx="0.9" ry="1.8" fill="#9c3af6" opacity="0.99"/><ellipse cx="450.0" cy="277.4" rx="1.1" ry="2.8" fill="#5c22b4" opacity="0.71"/><ellipse cx="469.8" cy="274.0" rx="1.4" ry="2.1" fill="#9c3af6" opacity="0.96"/><ellipse cx="478.3" cy="275.3" rx="0.8" ry="1.9" fill="#9c3af6" opacity="0.88"/><ellipse cx="486.8" cy="277.0" rx="1.3" ry="2.7" fill="#9c3af6" opacity="0.95"/><ellipse cx="501.2" cy="277.1" rx="1.1" ry="1.8" fill="#9c3af6" opacity="0.88"/><ellipse cx="529.7" cy="276.6" rx="1.4" ry="1.9" fill="#5c22b4" opacity="0.55"/><ellipse cx="539.1" cy="276.2" rx="1.2" ry="1.9" fill="#5c22b4" opacity="0.81"/><ellipse cx="550.1" cy="274.9" rx="0.9" ry="2.8" fill="#9c3af6" opacity="0.95"/><ellipse cx="558.4" cy="276.9" rx="1.0" ry="2.1" fill="#9c3af6" opacity="0.86"/><ellipse cx="567.7" cy="276.0" rx="1.2" ry="2.5" fill="#9c3af6" opacity="0.94"/><ellipse cx="571.6" cy="279.3" rx="0.9" ry="2.5" fill="#5c22b4" opacity="0.54"/><ellipse cx="433.4" cy="288.0" rx="1.1" ry="2.5" fill="#9c3af6" opacity="0.93"/><ellipse cx="444.7" cy="284.2" rx="0.8" ry="1.6" fill="#5c22b4" opacity="0.54"/><ellipse cx="449.8" cy="286.1" rx="1.4" ry="1.8" fill="#9c3af6" opacity="0.96"/><ellipse cx="474.4" cy="284.6" rx="0.9" ry="1.9" fill="#5c22b4" opacity="0.74"/><ellipse cx="493.5" cy="285.5" rx="1.2" ry="2.0" fill="#9c3af6" opacity="0.94"/><ellipse cx="519.2" cy="282.4" rx="1.2" ry="2.8" fill="#9c3af6" opacity="0.86"/><ellipse cx="528.3" cy="285.9" rx="1.4" ry="1.5" fill="#9c3af6" opacity="0.92"/><ellipse cx="549.4" cy="288.3" rx="1.2" ry="2.6" fill="#9c3af6" opacity="0.92"/><ellipse cx="576.6" cy="285.4" rx="1.3" ry="2.0" fill="#9c3af6" opacity="0.98"/><ellipse cx="450.3" cy="293.2" rx="1.3" ry="2.3" fill="#9c3af6" opacity="0.89"/><ellipse cx="468.1" cy="292.6" rx="1.1" ry="1.8" fill="#5c22b4" opacity="0.83"/><ellipse cx="482.9" cy="293.2" rx="1.0" ry="2.7" fill="#9c3af6" opacity="0.94"/><ellipse cx="523.8" cy="294.5" rx="1.3" ry="2.7" fill="#5c22b4" opacity="0.68"/><ellipse cx="529.8" cy="293.9" rx="1.2" ry="1.7" fill="#9c3af6" opacity="0.98"/><ellipse cx="554.1" cy="294.8" rx="1.2" ry="2.0" fill="#9c3af6" opacity="0.88"/><ellipse cx="432.1" cy="301.9" rx="1.2" ry="2.1" fill="#5c22b4" opacity="0.84"/><ellipse cx="443.8" cy="302.3" rx="1.2" ry="1.6" fill="#5c22b4" opacity="0.66"/><ellipse cx="448.6" cy="303.8" rx="0.8" ry="2.3" fill="#9c3af6" opacity="0.90"/><ellipse cx="457.0" cy="301.9" rx="1.3" ry="1.6" fill="#9c3af6" opacity="0.97"/><ellipse cx="469.6" cy="299.8" rx="1.3" ry="2.6" fill="#9c3af6" opacity="0.96"/><ellipse cx="478.9" cy="304.2" rx="0.8" ry="2.4" fill="#9c3af6" opacity="0.86"/><ellipse cx="496.1" cy="300.2" rx="1.2" ry="1.7" fill="#5c22b4" opacity="0.75"/><ellipse cx="501.8" cy="304.7" rx="0.8" ry="2.4" fill="#9c3af6" opacity="0.93"/><ellipse cx="513.7" cy="303.5" rx="1.3" ry="1.8" fill="#9c3af6" opacity="0.94"/><ellipse cx="519.7" cy="305.5" rx="1.2" ry="2.4" fill="#9c3af6" opacity="0.87"/><ellipse cx="565.8" cy="303.5" rx="1.4" ry="2.1" fill="#9c3af6" opacity="0.92"/><ellipse cx="576.3" cy="302.0" rx="1.2" ry="2.5" fill="#9c3af6" opacity="0.89"/><ellipse cx="449.5" cy="309.8" rx="1.3" ry="2.0" fill="#5c22b4" opacity="0.62"/><ellipse cx="461.1" cy="310.1" rx="1.0" ry="2.5" fill="#5c22b4" opacity="0.71"/><ellipse cx="469.0" cy="311.5" rx="1.0" ry="2.6" fill="#5c22b4" opacity="0.58"/><ellipse cx="478.2" cy="311.0" rx="1.2" ry="1.7" fill="#9c3af6" opacity="0.99"/><ellipse cx="485.1" cy="310.6" rx="1.1" ry="2.7" fill="#5c22b4" opacity="0.60"/><ellipse cx="492.3" cy="308.7" rx="1.0" ry="1.8" fill="#5c22b4" opacity="0.51"/><ellipse cx="505.0" cy="309.3" rx="1.2" ry="2.0" fill="#5c22b4" opacity="0.80"/><ellipse cx="510.3" cy="313.9" rx="1.0" ry="1.8" fill="#9c3af6" opacity="0.95"/><ellipse cx="523.2" cy="313.2" rx="1.2" ry="2.6" fill="#9c3af6" opacity="0.90"/><ellipse cx="535.9" cy="309.9" rx="0.8" ry="2.1" fill="#9c3af6" opacity="0.90"/><ellipse cx="545.4" cy="310.7" rx="1.1" ry="2.2" fill="#9c3af6" opacity="0.93"/><ellipse cx="559.0" cy="313.8" rx="1.2" ry="1.7" fill="#5c22b4" opacity="0.54"/><ellipse cx="575.9" cy="311.2" rx="1.2" ry="2.2" fill="#9c3af6" opacity="0.93"/><ellipse cx="443.6" cy="321.5" rx="1.3" ry="2.2" fill="#9c3af6" opacity="0.95"/><ellipse cx="496.8" cy="321.0" rx="1.2" ry="2.7" fill="#9c3af6" opacity="0.94"/><ellipse cx="512.0" cy="317.2" rx="1.2" ry="2.6" fill="#5c22b4" opacity="0.71"/></g>
<ellipse cx="621" cy="234.2" rx="59.8" ry="53.4" fill="#030204"/>
<g clip-path="url(#bigc)" filter="url(#glow)"><ellipse cx="620.5" cy="182.5" rx="2.8" ry="4.2" fill="#52107a" opacity="0.45"/><ellipse cx="620.5" cy="182.5" rx="1.3" ry="2.6" fill="#b030ec"/><ellipse cx="616.7" cy="185.5" rx="3.1" ry="6.3" fill="#52107a" opacity="0.45"/><ellipse cx="616.7" cy="185.5" rx="1.4" ry="3.9" fill="#b030ec"/><ellipse cx="629.9" cy="182.8" rx="3.5" ry="7.0" fill="#52107a" opacity="0.45"/><ellipse cx="629.9" cy="182.8" rx="1.6" ry="4.3" fill="#b030ec"/><ellipse cx="629.9" cy="182.0" rx="0.9" ry="1.9" fill="#f090ff"/><ellipse cx="634.2" cy="186.3" rx="3.9" ry="3.5" fill="#52107a" opacity="0.45"/><ellipse cx="634.2" cy="186.3" rx="1.8" ry="2.1" fill="#b030ec"/><ellipse cx="634.2" cy="185.9" rx="1.0" ry="0.9" fill="#f090ff"/><ellipse cx="573.3" cy="201.4" rx="3.1" ry="5.6" fill="#52107a" opacity="0.45"/><ellipse cx="573.3" cy="201.4" rx="1.5" ry="3.4" fill="#b030ec"/><ellipse cx="573.5" cy="205.3" rx="3.6" ry="4.6" fill="#52107a" opacity="0.45"/><ellipse cx="573.5" cy="205.3" rx="1.7" ry="2.8" fill="#b030ec"/><ellipse cx="572.8" cy="205.9" rx="2.5" ry="6.5" fill="#52107a" opacity="0.45"/><ellipse cx="572.8" cy="205.9" rx="1.2" ry="4.0" fill="#b030ec"/><ellipse cx="572.8" cy="205.1" rx="0.6" ry="1.8" fill="#f090ff"/><ellipse cx="615.6" cy="193.9" rx="3.5" ry="3.0" fill="#52107a" opacity="0.45"/><ellipse cx="615.6" cy="193.9" rx="1.7" ry="1.9" fill="#b030ec"/><ellipse cx="616.2" cy="196.1" rx="3.6" ry="6.9" fill="#52107a" opacity="0.45"/><ellipse cx="616.2" cy="196.1" rx="1.7" ry="4.2" fill="#b030ec"/><ellipse cx="616.2" cy="195.3" rx="0.9" ry="1.8" fill="#f090ff"/><ellipse cx="616.6" cy="199.9" rx="3.7" ry="7.0" fill="#52107a" opacity="0.45"/><ellipse cx="616.6" cy="199.9" rx="1.7" ry="4.3" fill="#b030ec"/><ellipse cx="633.1" cy="200.7" rx="4.1" ry="6.2" fill="#52107a" opacity="0.45"/><ellipse cx="633.1" cy="200.7" rx="1.9" ry="3.8" fill="#b030ec"/><ellipse cx="633.1" cy="200.0" rx="1.0" ry="1.7" fill="#f090ff"/><ellipse cx="651.4" cy="195.0" rx="2.9" ry="6.5" fill="#52107a" opacity="0.45"/><ellipse cx="651.4" cy="195.0" rx="1.4" ry="4.0" fill="#b030ec"/><ellipse cx="651.4" cy="194.3" rx="0.7" ry="1.8" fill="#f090ff"/><ellipse cx="653.7" cy="199.0" rx="3.0" ry="3.6" fill="#52107a" opacity="0.45"/><ellipse cx="653.7" cy="199.0" rx="1.4" ry="2.2" fill="#b030ec"/><ellipse cx="663.4" cy="200.8" rx="2.9" ry="4.3" fill="#52107a" opacity="0.45"/><ellipse cx="663.4" cy="200.8" rx="1.4" ry="2.6" fill="#b030ec"/><ellipse cx="663.4" cy="200.3" rx="0.7" ry="1.1" fill="#f090ff"/><ellipse cx="659.8" cy="203.4" rx="2.3" ry="2.9" fill="#52107a" opacity="0.45"/><ellipse cx="659.8" cy="203.4" rx="1.1" ry="1.8" fill="#b030ec"/><ellipse cx="659.8" cy="203.0" rx="0.6" ry="0.8" fill="#f090ff"/><ellipse cx="659.1" cy="207.8" rx="2.8" ry="7.1" fill="#52107a" opacity="0.45"/><ellipse cx="659.1" cy="207.8" rx="1.3" ry="4.4" fill="#b030ec"/><ellipse cx="659.8" cy="210.9" rx="3.3" ry="7.0" fill="#52107a" opacity="0.45"/><ellipse cx="659.8" cy="210.9" rx="1.5" ry="4.3" fill="#b030ec"/><ellipse cx="575.3" cy="208.3" rx="2.7" ry="5.6" fill="#52107a" opacity="0.45"/><ellipse cx="575.3" cy="208.3" rx="1.3" ry="3.4" fill="#b030ec"/><ellipse cx="575.3" cy="207.6" rx="0.7" ry="1.5" fill="#f090ff"/><ellipse cx="575.6" cy="210.8" rx="3.2" ry="5.3" fill="#52107a" opacity="0.45"/><ellipse cx="575.6" cy="210.8" rx="1.5" ry="3.3" fill="#b030ec"/><ellipse cx="577.1" cy="212.3" rx="3.6" ry="6.5" fill="#52107a" opacity="0.45"/><ellipse cx="577.1" cy="212.3" rx="1.7" ry="4.0" fill="#b030ec"/><ellipse cx="604.7" cy="212.2" rx="3.2" ry="4.1" fill="#52107a" opacity="0.45"/><ellipse cx="604.7" cy="212.2" rx="1.5" ry="2.5" fill="#b030ec"/><ellipse cx="604.7" cy="211.8" rx="0.8" ry="1.1" fill="#f090ff"/><ellipse cx="602.5" cy="214.6" rx="3.5" ry="3.9" fill="#52107a" opacity="0.45"/><ellipse cx="602.5" cy="214.6" rx="1.6" ry="2.4" fill="#b030ec"/><ellipse cx="602.5" cy="214.2" rx="0.9" ry="1.0" fill="#f090ff"/><ellipse cx="600.4" cy="217.5" rx="3.8" ry="3.4" fill="#52107a" opacity="0.45"/><ellipse cx="600.4" cy="217.5" rx="1.8" ry="2.1" fill="#b030ec"/><ellipse cx="625.7" cy="212.4" rx="3.8" ry="6.2" fill="#52107a" opacity="0.45"/><ellipse cx="625.7" cy="212.4" rx="1.8" ry="3.8" fill="#b030ec"/><ellipse cx="633.2" cy="206.6" rx="4.1" ry="4.4" fill="#52107a" opacity="0.45"/><ellipse cx="633.2" cy="206.6" rx="1.9" ry="2.7" fill="#b030ec"/><ellipse cx="633.2" cy="206.1" rx="1.0" ry="1.2" fill="#f090ff"/><ellipse cx="645.8" cy="209.8" rx="3.3" ry="4.8" fill="#52107a" opacity="0.45"/><ellipse cx="645.8" cy="209.8" rx="1.5" ry="2.9" fill="#b030ec"/><ellipse cx="645.8" cy="209.2" rx="0.8" ry="1.3" fill="#f090ff"/><ellipse cx="673.7" cy="215.8" rx="2.5" ry="3.6" fill="#52107a" opacity="0.45"/><ellipse cx="673.7" cy="215.8" rx="1.2" ry="2.2" fill="#b030ec"/><ellipse cx="676.4" cy="218.2" rx="2.6" ry="5.6" fill="#52107a" opacity="0.45"/><ellipse cx="676.4" cy="218.2" rx="1.2" ry="3.4" fill="#b030ec"/><ellipse cx="676.4" cy="217.6" rx="0.7" ry="1.5" fill="#f090ff"/><ellipse cx="672.7" cy="221.7" rx="2.9" ry="4.0" fill="#52107a" opacity="0.45"/><ellipse cx="672.7" cy="221.7" rx="1.4" ry="2.5" fill="#b030ec"/><ellipse cx="672.7" cy="221.3" rx="0.7" ry="1.1" fill="#f090ff"/><ellipse cx="673.1" cy="224.2" rx="3.7" ry="5.4" fill="#52107a" opacity="0.45"/><ellipse cx="673.1" cy="224.2" rx="1.7" ry="3.3" fill="#b030ec"/><ellipse cx="673.1" cy="223.6" rx="0.9" ry="1.4" fill="#f090ff"/><ellipse cx="569.9" cy="229.7" rx="3.1" ry="3.4" fill="#52107a" opacity="0.45"/><ellipse cx="569.9" cy="229.7" rx="1.4" ry="2.1" fill="#b030ec"/><ellipse cx="567.0" cy="231.8" rx="3.3" ry="3.3" fill="#52107a" opacity="0.45"/><ellipse cx="567.0" cy="231.8" rx="1.6" ry="2.0" fill="#b030ec"/><ellipse cx="567.7" cy="236.6" rx="3.2" ry="3.4" fill="#52107a" opacity="0.45"/><ellipse cx="567.7" cy="236.6" rx="1.5" ry="2.1" fill="#b030ec"/><ellipse cx="569.5" cy="235.7" rx="2.2" ry="4.5" fill="#52107a" opacity="0.45"/><ellipse cx="569.5" cy="235.7" rx="1.0" ry="2.7" fill="#b030ec"/><ellipse cx="576.0" cy="226.7" rx="4.0" ry="4.6" fill="#52107a" opacity="0.45"/><ellipse cx="576.0" cy="226.7" rx="1.9" ry="2.8" fill="#b030ec"/><ellipse cx="576.0" cy="226.1" rx="1.0" ry="1.2" fill="#f090ff"/><ellipse cx="609.4" cy="226.4" rx="3.9" ry="7.1" fill="#52107a" opacity="0.45"/><ellipse cx="609.4" cy="226.4" rx="1.8" ry="4.4" fill="#b030ec"/><ellipse cx="609.4" cy="225.6" rx="1.0" ry="1.9" fill="#f090ff"/><ellipse cx="611.5" cy="229.8" rx="3.5" ry="4.1" fill="#52107a" opacity="0.45"/><ellipse cx="611.5" cy="229.8" rx="1.7" ry="2.5" fill="#b030ec"/><ellipse cx="611.5" cy="229.4" rx="0.9" ry="1.1" fill="#f090ff"/><ellipse cx="630.5" cy="220.4" rx="2.6" ry="6.9" fill="#52107a" opacity="0.45"/><ellipse cx="630.5" cy="220.4" rx="1.2" ry="4.3" fill="#b030ec"/><ellipse cx="633.0" cy="222.8" rx="3.6" ry="4.7" fill="#52107a" opacity="0.45"/><ellipse cx="633.0" cy="222.8" rx="1.7" ry="2.9" fill="#b030ec"/><ellipse cx="633.0" cy="222.3" rx="0.9" ry="1.3" fill="#f090ff"/><ellipse cx="632.0" cy="224.8" rx="4.1" ry="3.5" fill="#52107a" opacity="0.45"/><ellipse cx="632.0" cy="224.8" rx="1.9" ry="2.1" fill="#b030ec"/><ellipse cx="630.9" cy="227.2" rx="3.7" ry="3.2" fill="#52107a" opacity="0.45"/><ellipse cx="630.9" cy="227.2" rx="1.7" ry="2.0" fill="#b030ec"/><ellipse cx="579.8" cy="238.5" rx="2.8" ry="4.4" fill="#52107a" opacity="0.45"/><ellipse cx="579.8" cy="238.5" rx="1.3" ry="2.7" fill="#b030ec"/><ellipse cx="580.9" cy="241.9" rx="3.6" ry="4.5" fill="#52107a" opacity="0.45"/><ellipse cx="580.9" cy="241.9" rx="1.7" ry="2.8" fill="#b030ec"/><ellipse cx="580.9" cy="241.4" rx="0.9" ry="1.2" fill="#f090ff"/><ellipse cx="581.2" cy="243.1" rx="2.1" ry="3.0" fill="#52107a" opacity="0.45"/><ellipse cx="581.2" cy="243.1" rx="1.0" ry="1.9" fill="#b030ec"/><ellipse cx="623.7" cy="238.4" rx="2.2" ry="6.0" fill="#52107a" opacity="0.45"/><ellipse cx="623.7" cy="238.4" rx="1.0" ry="3.7" fill="#b030ec"/><ellipse cx="623.7" cy="237.7" rx="0.6" ry="1.6" fill="#f090ff"/><ellipse cx="636.2" cy="238.4" rx="2.6" ry="3.7" fill="#52107a" opacity="0.45"/><ellipse cx="636.2" cy="238.4" rx="1.2" ry="2.3" fill="#b030ec"/><ellipse cx="640.1" cy="241.5" rx="3.7" ry="4.5" fill="#52107a" opacity="0.45"/><ellipse cx="640.1" cy="241.5" rx="1.7" ry="2.8" fill="#b030ec"/><ellipse cx="640.1" cy="241.0" rx="0.9" ry="1.2" fill="#f090ff"/><ellipse cx="639.0" cy="245.1" rx="1.9" ry="3.8" fill="#52107a" opacity="0.45"/><ellipse cx="639.0" cy="245.1" rx="0.9" ry="2.3" fill="#b030ec"/><ellipse cx="642.6" cy="237.6" rx="2.1" ry="5.2" fill="#52107a" opacity="0.45"/><ellipse cx="642.6" cy="237.6" rx="1.0" ry="3.2" fill="#b030ec"/><ellipse cx="646.8" cy="240.7" rx="2.3" ry="3.4" fill="#52107a" opacity="0.45"/><ellipse cx="646.8" cy="240.7" rx="1.1" ry="2.1" fill="#b030ec"/><ellipse cx="645.8" cy="244.1" rx="4.1" ry="5.2" fill="#52107a" opacity="0.45"/><ellipse cx="645.8" cy="244.1" rx="1.9" ry="3.2" fill="#b030ec"/><ellipse cx="643.9" cy="243.6" rx="3.9" ry="4.8" fill="#52107a" opacity="0.45"/><ellipse cx="643.9" cy="243.6" rx="1.8" ry="3.0" fill="#b030ec"/><ellipse cx="643.9" cy="243.0" rx="1.0" ry="1.3" fill="#f090ff"/><ellipse cx="659.2" cy="236.7" rx="3.9" ry="4.3" fill="#52107a" opacity="0.45"/><ellipse cx="659.2" cy="236.7" rx="1.8" ry="2.7" fill="#b030ec"/><ellipse cx="659.2" cy="236.2" rx="1.0" ry="1.2" fill="#f090ff"/><ellipse cx="656.6" cy="240.3" rx="3.8" ry="4.7" fill="#52107a" opacity="0.45"/><ellipse cx="656.6" cy="240.3" rx="1.8" ry="2.9" fill="#b030ec"/><ellipse cx="660.8" cy="243.3" rx="3.0" ry="5.8" fill="#52107a" opacity="0.45"/><ellipse cx="660.8" cy="243.3" rx="1.4" ry="3.5" fill="#b030ec"/><ellipse cx="569.8" cy="250.7" rx="2.3" ry="4.1" fill="#52107a" opacity="0.45"/><ellipse cx="569.8" cy="250.7" rx="1.1" ry="2.5" fill="#b030ec"/><ellipse cx="578.8" cy="255.2" rx="3.4" ry="6.2" fill="#52107a" opacity="0.45"/><ellipse cx="578.8" cy="255.2" rx="1.6" ry="3.8" fill="#b030ec"/><ellipse cx="580.7" cy="257.9" rx="4.0" ry="6.2" fill="#52107a" opacity="0.45"/><ellipse cx="580.7" cy="257.9" rx="1.9" ry="3.8" fill="#b030ec"/><ellipse cx="580.7" cy="257.2" rx="1.0" ry="1.7" fill="#f090ff"/><ellipse cx="582.3" cy="259.5" rx="3.7" ry="4.1" fill="#52107a" opacity="0.45"/><ellipse cx="582.3" cy="259.5" rx="1.7" ry="2.5" fill="#b030ec"/><ellipse cx="582.3" cy="259.0" rx="0.9" ry="1.1" fill="#f090ff"/><ellipse cx="594.2" cy="253.9" rx="2.0" ry="7.1" fill="#52107a" opacity="0.45"/><ellipse cx="594.2" cy="253.9" rx="0.9" ry="4.3" fill="#b030ec"/><ellipse cx="594.2" cy="253.1" rx="0.5" ry="1.9" fill="#f090ff"/><ellipse cx="620.2" cy="249.2" rx="2.3" ry="3.8" fill="#52107a" opacity="0.45"/><ellipse cx="620.2" cy="249.2" rx="1.1" ry="2.3" fill="#b030ec"/><ellipse cx="620.2" cy="248.8" rx="0.6" ry="1.0" fill="#f090ff"/><ellipse cx="661.8" cy="250.2" rx="4.0" ry="3.4" fill="#52107a" opacity="0.45"/><ellipse cx="661.8" cy="250.2" rx="1.9" ry="2.1" fill="#b030ec"/><ellipse cx="661.2" cy="252.5" rx="2.7" ry="3.9" fill="#52107a" opacity="0.45"/><ellipse cx="661.2" cy="252.5" rx="1.2" ry="2.4" fill="#b030ec"/><ellipse cx="605.4" cy="270.6" rx="2.8" ry="5.3" fill="#52107a" opacity="0.45"/><ellipse cx="605.4" cy="270.6" rx="1.3" ry="3.3" fill="#b030ec"/><ellipse cx="605.8" cy="273.1" rx="2.6" ry="3.6" fill="#52107a" opacity="0.45"/><ellipse cx="605.8" cy="273.1" rx="1.2" ry="2.2" fill="#b030ec"/><ellipse cx="617.3" cy="269.4" rx="3.6" ry="6.2" fill="#52107a" opacity="0.45"/><ellipse cx="617.3" cy="269.4" rx="1.7" ry="3.8" fill="#b030ec"/><ellipse cx="615.9" cy="272.3" rx="2.9" ry="4.7" fill="#52107a" opacity="0.45"/><ellipse cx="615.9" cy="272.3" rx="1.3" ry="2.9" fill="#b030ec"/><ellipse cx="618.7" cy="277.0" rx="2.8" ry="4.6" fill="#52107a" opacity="0.45"/><ellipse cx="618.7" cy="277.0" rx="1.3" ry="2.9" fill="#b030ec"/><ellipse cx="618.7" cy="276.5" rx="0.7" ry="1.3" fill="#f090ff"/><ellipse cx="636.4" cy="269.1" rx="2.6" ry="3.8" fill="#52107a" opacity="0.45"/><ellipse cx="636.4" cy="269.1" rx="1.2" ry="2.3" fill="#b030ec"/><ellipse cx="636.4" cy="268.7" rx="0.6" ry="1.0" fill="#f090ff"/><ellipse cx="603.1" cy="281.6" rx="3.1" ry="6.6" fill="#52107a" opacity="0.45"/><ellipse cx="603.1" cy="281.6" rx="1.4" ry="4.0" fill="#b030ec"/><ellipse cx="639.0" cy="276.5" rx="4.0" ry="5.1" fill="#52107a" opacity="0.45"/><ellipse cx="639.0" cy="276.5" rx="1.9" ry="3.1" fill="#b030ec"/></g>
<ellipse cx="621" cy="234" rx="62.5" ry="55.6" fill="none" stroke="#f7c65a" stroke-width="2.8" stroke-dasharray="9,4.6"/>
<ellipse cx="470" cy="240.4" rx="20.5" ry="18.7" fill="none" stroke="#f5c040" stroke-width="2.3" stroke-dasharray="2.2,3"/>
<line x1="468" y1="221.8" x2="576" y2="188" fill="none" stroke="#f5c040" stroke-width="2.3" stroke-dasharray="2.2,3"/>
<line x1="474" y1="259" x2="590" y2="284.5" fill="none" stroke="#f5c040" stroke-width="2.3" stroke-dasharray="2.2,3"/>
<text x="10.9" y="357.9" font-size="19.5" fill="#000" text-anchor="start" >(d)</text>
<line x1="43.7" y1="364.4" x2="209.6" y2="364.4" stroke="#3c3c3c" stroke-width="1"/>
<line x1="43.7" y1="498.2" x2="209.6" y2="498.2" stroke="#3c3c3c" stroke-width="1.1"/>
<line x1="43.7" y1="363.9" x2="43.7" y2="498.7" stroke="#3c3c3c" stroke-width="1.1"/>
<line x1="209.6" y1="363.9" x2="209.6" y2="498.7" stroke="#ff4848" stroke-width="1.2"/>
<line x1="43.7" y1="498.2" x2="46.0" y2="498.2" stroke="#3c3c3c" stroke-width="0.9"/>
<text x="41.400000000000006" y="500.1" font-size="7.0" fill="#222" stroke="#222" stroke-width="0.22" text-anchor="end">-20</text>
<line x1="43.7" y1="489.8" x2="45.0" y2="489.8" stroke="#3c3c3c" stroke-width="0.9"/>
<line x1="43.7" y1="481.5" x2="46.0" y2="481.5" stroke="#3c3c3c" stroke-width="0.9"/>
<text x="41.400000000000006" y="483.4" font-size="7.0" fill="#222" stroke="#222" stroke-width="0.22" text-anchor="end">-15</text>
<line x1="43.7" y1="473.1" x2="45.0" y2="473.1" stroke="#3c3c3c" stroke-width="0.9"/>
<line x1="43.7" y1="464.7" x2="46.0" y2="464.7" stroke="#3c3c3c" stroke-width="0.9"/>
<text x="41.400000000000006" y="466.6" font-size="7.0" fill="#222" stroke="#222" stroke-width="0.22" text-anchor="end">-10</text>
<line x1="43.7" y1="456.4" x2="45.0" y2="456.4" stroke="#3c3c3c" stroke-width="0.9"/>
<line x1="43.7" y1="448.0" x2="46.0" y2="448.0" stroke="#3c3c3c" stroke-width="0.9"/>
<text x="41.400000000000006" y="449.9" font-size="7.0" fill="#222" stroke="#222" stroke-width="0.22" text-anchor="end">-5</text>
<line x1="43.7" y1="439.7" x2="45.0" y2="439.7" stroke="#3c3c3c" stroke-width="0.9"/>
<line x1="43.7" y1="431.3" x2="46.0" y2="431.3" stroke="#3c3c3c" stroke-width="0.9"/>
<text x="41.400000000000006" y="433.2" font-size="7.0" fill="#222" stroke="#222" stroke-width="0.22" text-anchor="end">0</text>
<line x1="43.7" y1="422.9" x2="45.0" y2="422.9" stroke="#3c3c3c" stroke-width="0.9"/>
<line x1="43.7" y1="414.6" x2="46.0" y2="414.6" stroke="#3c3c3c" stroke-width="0.9"/>
<text x="41.400000000000006" y="416.5" font-size="7.0" fill="#222" stroke="#222" stroke-width="0.22" text-anchor="end">5</text>
<line x1="43.7" y1="406.2" x2="45.0" y2="406.2" stroke="#3c3c3c" stroke-width="0.9"/>
<line x1="43.7" y1="397.8" x2="46.0" y2="397.8" stroke="#3c3c3c" stroke-width="0.9"/>
<text x="41.400000000000006" y="399.7" font-size="7.0" fill="#222" stroke="#222" stroke-width="0.22" text-anchor="end">10</text>
<line x1="43.7" y1="389.5" x2="45.0" y2="389.5" stroke="#3c3c3c" stroke-width="0.9"/>
<line x1="43.7" y1="381.1" x2="46.0" y2="381.1" stroke="#3c3c3c" stroke-width="0.9"/>
<text x="41.400000000000006" y="383.0" font-size="7.0" fill="#222" stroke="#222" stroke-width="0.22" text-anchor="end">15</text>
<line x1="43.7" y1="372.8" x2="45.0" y2="372.8" stroke="#3c3c3c" stroke-width="0.9"/>
<line x1="43.7" y1="364.4" x2="46.0" y2="364.4" stroke="#3c3c3c" stroke-width="0.9"/>
<text x="41.400000000000006" y="366.3" font-size="7.0" fill="#222" stroke="#222" stroke-width="0.22" text-anchor="end">20</text>
<line x1="209.6" y1="498.2" x2="207.29999999999998" y2="498.2" stroke="#ff4848" stroke-width="0.9"/>
<text x="213.2" y="500.1" font-size="7.0" fill="#ff2020" stroke="#ff2020" stroke-width="0.22">-150</text>
<line x1="209.6" y1="487.0" x2="208.29999999999998" y2="487.0" stroke="#ff4848" stroke-width="0.9"/>
<line x1="209.6" y1="475.9" x2="207.29999999999998" y2="475.9" stroke="#ff4848" stroke-width="0.9"/>
<text x="213.2" y="477.8" font-size="7.0" fill="#ff2020" stroke="#ff2020" stroke-width="0.22">-100</text>
<line x1="209.6" y1="464.7" x2="208.29999999999998" y2="464.7" stroke="#ff4848" stroke-width="0.9"/>
<line x1="209.6" y1="453.6" x2="207.29999999999998" y2="453.6" stroke="#ff4848" stroke-width="0.9"/>
<text x="213.2" y="455.5" font-size="7.0" fill="#ff2020" stroke="#ff2020" stroke-width="0.22">-50</text>
<line x1="209.6" y1="442.4" x2="208.29999999999998" y2="442.4" stroke="#ff4848" stroke-width="0.9"/>
<line x1="209.6" y1="431.3" x2="207.29999999999998" y2="431.3" stroke="#ff4848" stroke-width="0.9"/>
<text x="213.2" y="433.2" font-size="7.0" fill="#ff2020" stroke="#ff2020" stroke-width="0.22">0</text>
<line x1="209.6" y1="420.1" x2="208.29999999999998" y2="420.1" stroke="#ff4848" stroke-width="0.9"/>
<line x1="209.6" y1="409.0" x2="207.29999999999998" y2="409.0" stroke="#ff4848" stroke-width="0.9"/>
<text x="213.2" y="410.9" font-size="7.0" fill="#ff2020" stroke="#ff2020" stroke-width="0.22">50</text>
<line x1="209.6" y1="397.8" x2="208.29999999999998" y2="397.8" stroke="#ff4848" stroke-width="0.9"/>
<line x1="209.6" y1="386.7" x2="207.29999999999998" y2="386.7" stroke="#ff4848" stroke-width="0.9"/>
<text x="213.2" y="388.6" font-size="7.0" fill="#ff2020" stroke="#ff2020" stroke-width="0.22">100</text>
<line x1="209.6" y1="375.5" x2="208.29999999999998" y2="375.5" stroke="#ff4848" stroke-width="0.9"/>
<line x1="209.6" y1="364.4" x2="207.29999999999998" y2="364.4" stroke="#ff4848" stroke-width="0.9"/>
<text x="213.2" y="366.3" font-size="7.0" fill="#ff2020" stroke="#ff2020" stroke-width="0.22">150</text>
<line x1="43.7" y1="498.2" x2="43.7" y2="496.9" stroke="#3c3c3c" stroke-width="0.9"/>
<line x1="60.3" y1="498.2" x2="60.3" y2="495.9" stroke="#3c3c3c" stroke-width="0.9"/>
<text x="60.3" y="507.2" font-size="7.0" fill="#222" stroke="#222" stroke-width="0.22" text-anchor="middle">-2</text>
<line x1="76.9" y1="498.2" x2="76.9" y2="496.9" stroke="#3c3c3c" stroke-width="0.9"/>
<line x1="93.5" y1="498.2" x2="93.5" y2="495.9" stroke="#3c3c3c" stroke-width="0.9"/>
<text x="93.5" y="507.2" font-size="7.0" fill="#222" stroke="#222" stroke-width="0.22" text-anchor="middle">-1</text>
<line x1="110.1" y1="498.2" x2="110.1" y2="496.9" stroke="#3c3c3c" stroke-width="0.9"/>
<line x1="126.7" y1="498.2" x2="126.7" y2="495.9" stroke="#3c3c3c" stroke-width="0.9"/>
<text x="126.7" y="507.2" font-size="7.0" fill="#222" stroke="#222" stroke-width="0.22" text-anchor="middle">0</text>
<line x1="143.2" y1="498.2" x2="143.2" y2="496.9" stroke="#3c3c3c" stroke-width="0.9"/>
<line x1="159.8" y1="498.2" x2="159.8" y2="495.9" stroke="#3c3c3c" stroke-width="0.9"/>
<text x="159.8" y="507.2" font-size="7.0" fill="#222" stroke="#222" stroke-width="0.22" text-anchor="middle">1</text>
<line x1="176.4" y1="498.2" x2="176.4" y2="496.9" stroke="#3c3c3c" stroke-width="0.9"/>
<line x1="193.0" y1="498.2" x2="193.0" y2="495.9" stroke="#3c3c3c" stroke-width="0.9"/>
<text x="193.0" y="507.2" font-size="7.0" fill="#222" stroke="#222" stroke-width="0.22" text-anchor="middle">2</text>
<line x1="209.6" y1="498.2" x2="209.6" y2="496.9" stroke="#3c3c3c" stroke-width="0.9"/>
<clipPath id="clipd"><rect x="43.7" y="364.4" width="165.89999999999998" height="133.8"/></clipPath>
<g clip-path="url(#clipd)">
<path d="M44.2,426.6V437.4M46.6,429.0V438.5M48.5,417.1V446.2M49.0,424.8V442.4M49.7,420.5V433.6M50.6,424.3V440.4M51.2,428.6V440.8M52.0,419.5V438.6M52.9,411.8V436.0M53.6,414.7V436.3M54.5,424.7V438.3M55.1,422.0V435.1M55.8,415.3V435.5M56.5,420.7V440.8M57.2,425.7V439.3M57.7,429.7V451.0M58.5,418.3V434.0M59.0,417.1V434.7M59.8,415.7V442.2M60.4,430.6V445.5M61.2,431.1V446.5M62.1,420.0V438.7M63.0,420.2V436.7M63.6,422.3V435.7M64.2,431.0V449.5M64.7,422.6V443.0M65.3,429.2V450.4M65.9,414.5V436.0M66.6,428.3V444.8M67.5,432.3V446.2M68.2,430.5V435.0M70.0,425.6V444.3M71.9,432.1V444.2M73.6,432.7V440.9M76.0,427.9V441.9M77.7,433.0V436.7M80.0,425.8V439.1M82.2,433.2V445.0M84.3,427.5V439.0M86.4,424.6V438.5M88.4,432.0V435.7M90.5,433.6V438.4M92.7,425.5V437.9M95.0,430.3V435.4M97.1,423.9V440.3M99.1,429.5V434.6M100.9,429.2V442.0M102.5,431.2V435.4M104.3,430.8V435.4M106.4,425.6V434.0M108.5,421.9V434.2M109.9,429.5V437.1M111.4,428.3V431.1M112.7,429.2V432.9M114.7,419.6V431.1M116.5,427.1V430.3M118.8,427.7V430.8M120.2,427.1V435.3M122.7,424.5V436.6M124.7,424.8V432.0M126.7,421.7V435.6M128.4,427.1V433.1M130.4,424.0V440.9M131.3,415.8V433.6M131.9,422.7V442.7M132.8,422.9V441.5M133.5,425.2V438.7M134.1,420.2V432.6M134.9,424.9V441.3M135.7,419.8V433.6M136.6,428.4V439.7M137.2,423.6V441.7M137.9,425.9V444.3M138.4,426.1V443.9M139.0,418.4V435.8M139.7,429.7V445.2M140.3,424.9V449.7M141.0,419.2V435.3M141.7,427.4V447.6M142.6,419.6V439.1M143.2,414.8V434.8M144.0,429.6V444.1M144.8,426.1V443.0M145.5,431.0V441.6M146.3,427.5V440.4M147.1,431.4V448.1M147.9,415.0V448.3M148.4,424.9V447.5M149.3,430.8V442.0M150.2,419.0V438.2M150.7,431.5V443.5M151.4,432.3V435.3M153.6,433.1V436.8M155.3,430.6V442.8M157.0,431.7V435.7M159.1,432.3V445.7M161.1,432.4V436.1M163.3,433.6V441.3M165.0,434.2V437.7M167.1,432.2V435.9M168.6,431.3V441.7M170.5,425.4V436.4M172.6,429.1V439.2M174.7,432.5V436.2M176.8,432.7V436.9M178.6,426.9V437.0M180.3,427.8V437.4M182.4,430.9V436.3M184.3,429.1V441.1M186.1,430.4V432.9M187.4,425.5V440.3M188.8,428.5V442.0M190.6,430.7V433.3M192.1,423.7V435.0M193.6,424.1V432.3M195.2,427.5V430.8M197.6,426.2V431.3M199.7,428.3V440.5M201.8,420.6V433.1M203.3,425.4V431.1M204.8,427.6V438.4M206.4,426.6V435.0M208.6,424.3V432.3" stroke="#ff1818" stroke-width="1" fill="none" opacity="0.85"/>
<polyline points="43.7,429.8 44.3,429.6 44.9,430.2 45.5,429.3 46.1,429.4 46.7,430.2 47.3,429.9 47.9,429.6 48.5,430.2 49.1,430.8 49.7,430.4 50.3,430.3 50.9,430.2 51.5,430.2 52.1,431.2 52.7,430.9 53.3,431.4 53.9,430.7 54.5,431.0 55.1,430.9 55.7,431.4 56.3,431.2 56.9,431.5 57.5,431.8 58.1,431.8 58.7,431.7 59.3,431.8 59.9,432.9 60.5,432.2 61.1,432.7 61.7,432.7 62.3,433.0 62.9,432.7 63.5,433.1 64.1,433.0 64.7,433.5 65.3,434.0 65.9,433.9 66.5,434.2 67.1,433.7 67.7,433.6 68.3,434.3 68.9,434.3 69.5,434.5 70.1,434.4 70.7,434.8 71.3,435.0 71.9,435.2 72.5,434.7 73.1,434.9 73.7,435.4 74.3,434.8 74.9,434.8 75.5,435.1 76.1,434.9 76.7,435.6 77.3,435.7 77.9,435.2 78.5,435.1 79.1,435.1 79.7,435.2 80.3,435.1 80.9,435.4 81.5,435.6 82.1,435.2 82.7,435.0 83.3,435.7 83.9,435.0 84.5,435.1 85.1,435.1 85.7,435.2 86.3,434.9 86.9,435.1 87.5,435.0 88.1,435.3 88.7,435.1 89.3,435.3 89.9,435.0 90.5,435.0 91.1,434.7 91.7,434.5 92.3,434.8 92.9,434.5 93.5,434.7 94.1,434.4 94.7,434.2 95.3,433.7 95.9,434.1 96.5,433.6 97.1,433.2 97.7,433.0 98.3,433.0 98.9,432.9 99.5,433.2 100.1,432.7 100.7,432.3 101.3,432.9 101.9,432.5 102.5,431.9 103.1,431.8 103.7,431.7 104.3,431.8 104.9,432.2 105.5,432.1 106.1,431.7 106.7,431.1 107.3,431.2 107.9,431.0 108.5,430.9 109.1,430.4 109.7,430.9 110.3,431.0 110.9,430.8 111.5,430.1 112.1,430.4 112.7,430.0 113.3,430.4 113.9,430.1 114.5,430.5 115.1,430.3 115.7,429.5 116.3,429.7 116.9,430.2 117.5,429.7 118.1,429.6 118.7,429.6 119.3,429.9 119.9,430.0 120.5,429.6 121.1,430.0 121.7,429.6 122.3,429.1 122.9,429.8 123.5,429.4 124.1,429.1 124.7,430.0 125.3,429.1 125.9,429.7 126.5,429.6 127.1,430.1 127.7,429.6 128.3,429.5 128.9,429.6 129.5,429.6 130.1,430.0 130.7,429.9 131.3,430.4 131.9,430.0 132.5,430.2 133.1,430.1 133.7,431.0 134.3,430.9 134.9,431.1 135.5,430.9 136.1,430.8 136.7,430.7 137.3,431.5 137.9,431.3 138.5,431.0 139.1,431.2 139.7,431.3 140.3,432.0 140.9,432.3 141.5,431.8 142.1,432.5 142.7,432.2 143.3,432.7 143.9,433.0 144.5,432.9 145.1,433.2 145.7,432.9 146.3,432.7 146.9,433.3 147.5,433.5 148.1,433.2 148.7,433.6 149.3,433.6 149.9,433.4 150.5,433.8 151.1,434.0 151.7,434.2 152.3,434.6 152.9,434.4 153.5,435.1 154.1,435.0 154.7,435.2 155.3,435.0 155.9,435.1 156.5,435.0 157.1,435.4 157.7,435.0 158.3,435.3 158.9,435.4 159.5,435.3 160.1,435.1 160.7,435.0 161.3,435.0 161.9,435.3 162.5,435.6 163.1,435.7 163.7,435.7 164.3,435.3 164.9,435.9 165.5,435.3 166.1,435.7 166.7,435.0 167.3,435.7 167.9,435.6 168.5,435.8 169.1,435.7 169.7,435.4 170.3,435.5 170.9,435.4 171.5,435.2 172.1,434.7 172.7,434.9 173.3,435.2 173.9,434.5 174.5,435.1 175.1,434.6 175.7,434.3 176.3,433.8 176.9,434.1 177.5,433.8 178.1,434.1 178.7,434.3 179.3,434.2 179.9,433.7 180.5,433.4 181.1,433.0 181.7,433.4 182.3,433.2 182.9,433.2 183.5,432.7 184.1,433.1 184.7,432.3 185.3,432.2 185.9,432.1 186.5,432.3 187.1,432.4 187.7,431.6 188.3,431.9 188.9,431.9 189.5,431.2 190.1,430.9 190.7,431.3 191.3,431.5 191.9,431.4 192.5,431.1 193.1,430.7 193.7,430.6 194.3,430.6 194.9,430.9 195.5,430.2 196.1,430.1 196.7,430.3 197.3,430.6 197.9,429.7 198.5,429.5 199.1,429.5 199.7,429.9 200.3,429.9 200.9,429.4 201.5,429.3 202.1,429.7 202.7,429.7 203.3,429.7 203.9,429.8 204.5,429.1 205.1,429.5 205.7,429.8 206.3,430.0 206.9,429.3 207.5,429.9 208.1,429.7 208.7,430.0 209.3,429.3" fill="none" stroke="#ff1010" stroke-width="2.2" stroke-linejoin="round"/>
<polyline points="43.8,431.6 44.2,430.0 44.5,428.4 44.7,426.3 45.0,425.1 45.2,423.5 45.4,422.1 45.6,420.3 45.8,418.9 46.1,417.6 46.3,416.1 46.6,414.8 46.8,413.0 47.1,411.6 47.3,410.6 47.6,409.0 47.8,407.7 48.1,406.6 48.3,405.0 48.6,403.6 48.8,403.1 49.0,401.9 49.3,401.1 49.5,400.2 49.7,399.6 49.9,398.4 50.1,398.0 50.3,397.1 50.6,396.7 50.8,396.2 51.0,395.4 51.2,394.7 51.4,394.6 51.7,394.4 51.9,394.0 52.1,393.7 52.3,393.6 52.5,393.0 52.8,392.8 53.0,392.6 53.3,392.7 53.6,392.0 53.9,391.7 54.2,391.5 54.5,391.2 54.8,391.1 55.1,391.1 55.4,391.0 55.7,390.4 56.1,390.1 56.4,389.7 56.7,389.3 57.1,389.2 57.4,388.6 57.7,387.9 58.1,387.3 58.4,387.2 58.8,386.7 59.1,386.3 59.5,385.4 59.8,385.2 60.1,385.0 60.5,384.4 60.8,384.2 61.1,383.3 61.4,383.5 61.7,382.5 62.0,382.4 62.4,381.7 62.7,382.0 63.0,381.6 63.3,381.5 63.7,381.1 64.0,381.0 64.3,380.5 64.6,380.6 65.0,380.3 65.3,379.8 65.6,380.1 66.0,379.5 66.3,379.2 66.6,379.0 67.0,379.1 67.4,378.8 67.7,379.2 68.1,379.1 68.4,378.5 68.8,378.3 69.1,378.5 69.4,378.2 69.7,378.5 70.0,378.7 70.2,378.3 70.4,378.4 70.6,378.8 70.8,378.5 71.0,378.5 71.2,379.0 71.4,379.1 71.6,379.3 71.8,379.2 72.0,379.2 72.2,379.6 72.4,379.9 72.6,380.0 72.8,379.9 73.0,380.2 73.2,380.5 73.4,381.1 73.5,381.2 73.7,381.5 73.9,382.0 74.0,381.8 74.2,382.5 74.3,382.7 74.4,383.2 74.6,383.7 74.7,383.7 74.8,384.6 75.0,384.4 75.1,385.2 75.2,385.6 75.3,385.7 75.4,386.3 75.5,386.6 75.6,386.9 75.7,387.5 75.8,387.5 76.0,388.4 76.2,389.5 76.4,389.9 76.7,391.5 77.0,392.2 77.4,393.9 77.8,395.0 78.2,396.7 78.7,398.3 79.1,399.7 79.6,401.7 80.0,403.2 80.4,405.0 80.8,406.6 81.2,408.3 81.7,410.1 82.1,411.8 82.6,414.1 83.0,415.4 83.4,417.7 83.8,419.5 84.1,420.8 84.4,422.5 84.7,423.7 84.9,424.8 85.0,425.6 85.2,426.6 85.3,427.5 85.4,428.3 85.5,429.7 85.6,430.2 85.8,431.4 86.0,432.6 86.2,434.2 86.5,435.4 86.7,436.9 87.0,438.2 87.3,439.8 87.6,441.3 87.9,443.0 88.2,444.6 88.5,446.7 88.8,448.0 89.1,449.4 89.5,451.4 89.8,453.0 90.2,455.2 90.5,456.9 90.9,459.0 91.3,460.3 91.6,462.2 91.9,463.1 92.2,464.8 92.5,465.4 92.7,465.6 92.9,466.6 93.1,466.6 93.3,466.9 93.5,466.9 93.7,467.5 93.9,467.1 94.1,467.7 94.3,467.7 94.5,468.1 94.7,468.0 94.8,468.0 95.0,468.8 95.2,468.7 95.4,468.5 95.6,469.2 95.8,469.4 96.0,469.2 96.3,469.4 96.6,470.3 97.0,470.5 97.4,471.4 97.8,471.8 98.2,472.7 98.6,473.2 99.0,474.0 99.5,474.7 99.9,475.2 100.3,475.9 100.7,476.3 101.1,476.8 101.5,477.5 102.0,478.7 102.4,479.0 102.8,479.8 103.2,480.4 103.6,481.2 104.0,481.7 104.3,482.4 104.6,482.5 104.9,482.8 105.2,483.4 105.4,483.7 105.6,484.1 105.9,483.9 106.1,484.5 106.3,484.8 106.5,485.0 106.8,484.6 107.1,484.9 107.4,485.3 107.6,485.5 107.9,485.1 108.2,485.4 108.5,485.7 108.8,485.8 109.1,485.7 109.3,485.6 109.6,485.8 109.8,485.6 110.1,485.8 110.3,485.9 110.5,486.2 110.8,486.0 111.0,485.9 111.2,485.8 111.4,485.8 111.6,486.0 111.8,485.8 112.0,485.5 112.2,485.9 112.4,485.7 112.6,485.9 112.8,485.5 113.0,485.4 113.2,485.1 113.3,485.1 113.5,485.1 113.7,484.8 113.9,484.3 114.0,483.8 114.2,483.1 114.4,483.2 114.5,482.4 114.7,481.9 114.9,481.2 115.0,480.6 115.2,480.3 115.4,480.1 115.6,479.4 115.8,479.0 116.0,478.5 116.2,477.8 116.4,477.3 116.6,477.0 116.8,475.9 117.1,475.4 117.4,474.2 117.7,472.8 118.0,470.7 118.4,468.6 118.8,466.5 119.2,463.7 119.7,461.3 120.1,458.3 120.6,455.8 121.1,453.2 121.5,450.7 122.0,448.4 122.5,446.1 123.0,444.3 123.5,443.0 124.1,440.7 124.6,439.1 125.1,437.6 125.7,436.1 126.1,434.7 126.6,432.7 127.0,431.6 127.4,429.4 127.7,428.3 127.9,426.6 128.2,425.3 128.4,423.3 128.6,422.2 128.8,420.9 129.0,419.2 129.3,417.4 129.5,416.5 129.8,415.1 130.0,413.1 130.3,412.1 130.5,410.2 130.8,408.8 131.0,407.9 131.3,406.5 131.5,405.5 131.8,404.0 132.0,402.9 132.2,401.7 132.5,401.0 132.7,400.4 132.9,399.4 133.1,398.8 133.3,397.6 133.5,397.4 133.8,396.8 134.0,395.7 134.2,395.7 134.4,394.8 134.6,394.4 134.9,394.0 135.1,394.1 135.3,393.5 135.5,393.8 135.7,392.9 136.0,393.2 136.2,392.9 136.5,392.5 136.8,392.3 137.1,392.2 137.4,391.8 137.7,391.2 138.0,391.5 138.3,390.9 138.6,390.8 138.9,390.5 139.3,390.5 139.6,389.8 139.9,389.7 140.3,388.7 140.6,388.4 140.9,388.2 141.3,387.6 141.6,387.3 142.0,386.3 142.3,386.3 142.7,385.8 143.0,384.9 143.3,384.5 143.7,384.4 144.0,384.2 144.3,383.6 144.6,383.1 144.9,382.8 145.2,382.6 145.6,382.1 145.9,381.8 146.2,381.5 146.5,381.5 146.9,381.1 147.2,380.9 147.5,380.3 147.8,380.4 148.2,380.3 148.5,380.1 148.8,380.1 149.2,379.9 149.5,379.2 149.8,379.3 150.2,379.1 150.6,378.8 150.9,378.9 151.3,379.1 151.6,378.9 152.0,378.3 152.3,378.4 152.6,378.4 152.9,378.7 153.2,378.4 153.4,378.2 153.6,378.5 153.8,378.3 154.0,378.3 154.2,378.7 154.4,379.1 154.6,379.0 154.8,379.1 155.0,378.9 155.2,379.3 155.4,379.6 155.6,379.8 155.8,379.8 156.0,379.8 156.2,380.6 156.4,380.4 156.6,381.0 156.7,381.1 156.9,381.7 157.1,381.7 157.2,381.8 157.4,382.4 157.5,382.8 157.6,383.3 157.8,383.4 157.9,384.0 158.0,384.2 158.2,384.9 158.3,384.9 158.4,385.8 158.5,386.2 158.6,385.9 158.7,386.8 158.8,387.2 158.9,387.5 159.0,387.6 159.2,388.7 159.4,389.4 159.6,390.2 159.9,391.5 160.2,392.7 160.6,393.9 161.0,395.5 161.4,396.5 161.9,398.2 162.3,400.0 162.8,401.6 163.2,403.6 163.6,405.0 164.0,406.6 164.4,408.4 164.9,410.4 165.3,411.9 165.7,414.0 166.2,415.8 166.6,417.4 167.0,419.1 167.3,420.6 167.6,421.9 167.9,423.5 168.1,424.6 168.2,425.4 168.4,426.7 168.5,427.5 168.6,428.8 168.7,429.6 168.8,430.5 169.0,431.7 169.2,432.5 169.4,433.7 169.7,435.5 169.9,436.7 170.2,438.7 170.5,439.9 170.8,441.8 171.1,443.0 171.4,444.5 171.7,446.5 172.0,448.2 172.3,449.5 172.7,451.7 173.0,453.6 173.4,455.3 173.7,457.3 174.1,459.1 174.5,460.2 174.8,462.1 175.1,463.5 175.4,464.6 175.7,465.2 175.9,466.0 176.1,466.5 176.3,467.0 176.5,466.7 176.7,467.1 176.9,467.1 177.1,467.6 177.3,467.3 177.5,467.5 177.7,467.7 177.9,467.9 178.0,468.3 178.2,468.7 178.4,468.5 178.6,468.5 178.8,469.0 179.0,469.0 179.2,469.5 179.5,469.9 179.8,470.2 180.2,470.9 180.6,471.4 181.0,472.1 181.4,472.7 181.8,473.4 182.2,474.0 182.7,474.3 183.1,475.2 183.5,476.0 183.9,476.6 184.3,477.3 184.7,478.0 185.2,478.7 185.6,479.2 186.0,479.9 186.4,480.2 186.8,481.1 187.2,481.8 187.5,482.4 187.8,482.8 188.1,482.9 188.4,483.1 188.6,483.8 188.8,483.9 189.1,483.8 189.3,483.9 189.5,484.7 189.7,484.7 190.0,484.5 190.3,485.3 190.6,485.2 190.8,485.5 191.1,485.6 191.4,485.3 191.7,485.6 192.0,485.4 192.3,485.8 192.5,485.7 192.8,486.0 193.0,485.6 193.3,485.7 193.5,485.9 193.7,485.6 194.0,485.9 194.2,486.3 194.4,486.2 194.6,485.7 194.8,486.1 195.0,485.6 195.2,485.6 195.4,485.8 195.6,485.5 195.8,485.3 196.0,485.2 196.2,485.1 196.4,485.0 196.5,485.3 196.7,484.4 196.9,484.5 197.1,484.0 197.2,484.0 197.4,483.1 197.6,482.9 197.7,482.7 197.9,481.7 198.1,481.4 198.2,480.8 198.4,480.4 198.6,479.9 198.8,479.0 199.0,479.1 199.2,478.3 199.4,478.2 199.6,477.3 199.8,476.7 200.0,476.0 200.3,475.0 200.6,474.0 200.9,472.5 201.2,470.7 201.6,469.1 202.0,466.5 202.4,463.9 202.9,461.2 203.3,458.6 203.8,455.4 204.3,452.7 204.7,450.7 205.2,448.0 205.7,446.4 206.2,444.5 206.7,442.9 207.3,440.6 207.8,439.2 208.3,437.5 208.9,436.1 209.3,434.1" fill="none" stroke="#111" stroke-width="2.3" stroke-linejoin="round"/>
<line x1="141.6" y1="431" x2="141.6" y2="402.8" stroke="#ff2a2a" stroke-width="0.9"/>
</g>
<text x="43.7" y="505" font-size="7.0" fill="#333" text-anchor="middle"></text>
<text x="127" y="519.3" font-size="8.3" fill="#222" text-anchor="middle">Times(ms)</text>
<text transform="translate(27.2,430.8) rotate(-90)" font-size="8.3" fill="#222" text-anchor="middle">Applied voltage(kV)</text>
<text transform="translate(234.2,430.9) rotate(-90)" font-size="8.3" fill="#ff2020" text-anchor="middle">Current(mA)</text>
<text x="233.6" y="357.9" font-size="19.5" fill="#000" text-anchor="start" >(e)</text>
<line x1="262.5" y1="364.4" x2="428.7" y2="364.4" stroke="#3c3c3c" stroke-width="1"/>
<line x1="262.5" y1="497.4" x2="428.7" y2="497.4" stroke="#3c3c3c" stroke-width="1.1"/>
<line x1="262.5" y1="363.9" x2="262.5" y2="497.9" stroke="#3c3c3c" stroke-width="1.1"/>
<line x1="428.7" y1="363.9" x2="428.7" y2="497.9" stroke="#ff4848" stroke-width="1.2"/>
<line x1="262.5" y1="497.4" x2="264.8" y2="497.4" stroke="#3c3c3c" stroke-width="0.9"/>
<text x="260.2" y="499.3" font-size="7.0" fill="#222" stroke="#222" stroke-width="0.22" text-anchor="end">-20</text>
<line x1="262.5" y1="489.1" x2="263.8" y2="489.1" stroke="#3c3c3c" stroke-width="0.9"/>
<line x1="262.5" y1="480.8" x2="264.8" y2="480.8" stroke="#3c3c3c" stroke-width="0.9"/>
<text x="260.2" y="482.7" font-size="7.0" fill="#222" stroke="#222" stroke-width="0.22" text-anchor="end">-15</text>
<line x1="262.5" y1="472.5" x2="263.8" y2="472.5" stroke="#3c3c3c" stroke-width="0.9"/>
<line x1="262.5" y1="464.1" x2="264.8" y2="464.1" stroke="#3c3c3c" stroke-width="0.9"/>
<text x="260.2" y="466.0" font-size="7.0" fill="#222" stroke="#222" stroke-width="0.22" text-anchor="end">-10</text>
<line x1="262.5" y1="455.8" x2="263.8" y2="455.8" stroke="#3c3c3c" stroke-width="0.9"/>
<line x1="262.5" y1="447.5" x2="264.8" y2="447.5" stroke="#3c3c3c" stroke-width="0.9"/>
<text x="260.2" y="449.4" font-size="7.0" fill="#222" stroke="#222" stroke-width="0.22" text-anchor="end">-5</text>
<line x1="262.5" y1="439.2" x2="263.8" y2="439.2" stroke="#3c3c3c" stroke-width="0.9"/>
<line x1="262.5" y1="430.9" x2="264.8" y2="430.9" stroke="#3c3c3c" stroke-width="0.9"/>
<text x="260.2" y="432.8" font-size="7.0" fill="#222" stroke="#222" stroke-width="0.22" text-anchor="end">0</text>
<line x1="262.5" y1="422.6" x2="263.8" y2="422.6" stroke="#3c3c3c" stroke-width="0.9"/>
<line x1="262.5" y1="414.3" x2="264.8" y2="414.3" stroke="#3c3c3c" stroke-width="0.9"/>
<text x="260.2" y="416.2" font-size="7.0" fill="#222" stroke="#222" stroke-width="0.22" text-anchor="end">5</text>
<line x1="262.5" y1="406.0" x2="263.8" y2="406.0" stroke="#3c3c3c" stroke-width="0.9"/>
<line x1="262.5" y1="397.6" x2="264.8" y2="397.6" stroke="#3c3c3c" stroke-width="0.9"/>
<text x="260.2" y="399.5" font-size="7.0" fill="#222" stroke="#222" stroke-width="0.22" text-anchor="end">10</text>
<line x1="262.5" y1="389.3" x2="263.8" y2="389.3" stroke="#3c3c3c" stroke-width="0.9"/>
<line x1="262.5" y1="381.0" x2="264.8" y2="381.0" stroke="#3c3c3c" stroke-width="0.9"/>
<text x="260.2" y="382.9" font-size="7.0" fill="#222" stroke="#222" stroke-width="0.22" text-anchor="end">15</text>
<line x1="262.5" y1="372.7" x2="263.8" y2="372.7" stroke="#3c3c3c" stroke-width="0.9"/>
<line x1="262.5" y1="364.4" x2="264.8" y2="364.4" stroke="#3c3c3c" stroke-width="0.9"/>
<text x="260.2" y="366.3" font-size="7.0" fill="#222" stroke="#222" stroke-width="0.22" text-anchor="end">20</text>
<line x1="428.7" y1="497.4" x2="426.4" y2="497.4" stroke="#ff4848" stroke-width="0.9"/>
<text x="432.3" y="499.3" font-size="7.0" fill="#ff2020" stroke="#ff2020" stroke-width="0.22">-150</text>
<line x1="428.7" y1="486.3" x2="427.4" y2="486.3" stroke="#ff4848" stroke-width="0.9"/>
<line x1="428.7" y1="475.2" x2="426.4" y2="475.2" stroke="#ff4848" stroke-width="0.9"/>
<text x="432.3" y="477.1" font-size="7.0" fill="#ff2020" stroke="#ff2020" stroke-width="0.22">-100</text>
<line x1="428.7" y1="464.1" x2="427.4" y2="464.1" stroke="#ff4848" stroke-width="0.9"/>
<line x1="428.7" y1="453.1" x2="426.4" y2="453.1" stroke="#ff4848" stroke-width="0.9"/>
<text x="432.3" y="455.0" font-size="7.0" fill="#ff2020" stroke="#ff2020" stroke-width="0.22">-50</text>
<line x1="428.7" y1="442.0" x2="427.4" y2="442.0" stroke="#ff4848" stroke-width="0.9"/>
<line x1="428.7" y1="430.9" x2="426.4" y2="430.9" stroke="#ff4848" stroke-width="0.9"/>
<text x="432.3" y="432.8" font-size="7.0" fill="#ff2020" stroke="#ff2020" stroke-width="0.22">0</text>
<line x1="428.7" y1="419.8" x2="427.4" y2="419.8" stroke="#ff4848" stroke-width="0.9"/>
<line x1="428.7" y1="408.7" x2="426.4" y2="408.7" stroke="#ff4848" stroke-width="0.9"/>
<text x="432.3" y="410.6" font-size="7.0" fill="#ff2020" stroke="#ff2020" stroke-width="0.22">50</text>
<line x1="428.7" y1="397.6" x2="427.4" y2="397.6" stroke="#ff4848" stroke-width="0.9"/>
<line x1="428.7" y1="386.6" x2="426.4" y2="386.6" stroke="#ff4848" stroke-width="0.9"/>
<text x="432.3" y="388.5" font-size="7.0" fill="#ff2020" stroke="#ff2020" stroke-width="0.22">100</text>
<line x1="428.7" y1="375.5" x2="427.4" y2="375.5" stroke="#ff4848" stroke-width="0.9"/>
<line x1="428.7" y1="364.4" x2="426.4" y2="364.4" stroke="#ff4848" stroke-width="0.9"/>
<text x="432.3" y="366.3" font-size="7.0" fill="#ff2020" stroke="#ff2020" stroke-width="0.22">150</text>
<line x1="262.5" y1="497.4" x2="262.5" y2="496.09999999999997" stroke="#3c3c3c" stroke-width="0.9"/>
<line x1="279.1" y1="497.4" x2="279.1" y2="495.09999999999997" stroke="#3c3c3c" stroke-width="0.9"/>
<text x="279.1" y="506.4" font-size="7.0" fill="#222" stroke="#222" stroke-width="0.22" text-anchor="middle">-2</text>
<line x1="295.7" y1="497.4" x2="295.7" y2="496.09999999999997" stroke="#3c3c3c" stroke-width="0.9"/>
<line x1="312.4" y1="497.4" x2="312.4" y2="495.09999999999997" stroke="#3c3c3c" stroke-width="0.9"/>
<text x="312.4" y="506.4" font-size="7.0" fill="#222" stroke="#222" stroke-width="0.22" text-anchor="middle">-1</text>
<line x1="329.0" y1="497.4" x2="329.0" y2="496.09999999999997" stroke="#3c3c3c" stroke-width="0.9"/>
<line x1="345.6" y1="497.4" x2="345.6" y2="495.09999999999997" stroke="#3c3c3c" stroke-width="0.9"/>
<text x="345.6" y="506.4" font-size="7.0" fill="#222" stroke="#222" stroke-width="0.22" text-anchor="middle">0</text>
<line x1="362.2" y1="497.4" x2="362.2" y2="496.09999999999997" stroke="#3c3c3c" stroke-width="0.9"/>
<line x1="378.8" y1="497.4" x2="378.8" y2="495.09999999999997" stroke="#3c3c3c" stroke-width="0.9"/>
<text x="378.8" y="506.4" font-size="7.0" fill="#222" stroke="#222" stroke-width="0.22" text-anchor="middle">1</text>
<line x1="395.5" y1="497.4" x2="395.5" y2="496.09999999999997" stroke="#3c3c3c" stroke-width="0.9"/>
<line x1="412.1" y1="497.4" x2="412.1" y2="495.09999999999997" stroke="#3c3c3c" stroke-width="0.9"/>
<text x="412.1" y="506.4" font-size="7.0" fill="#222" stroke="#222" stroke-width="0.22" text-anchor="middle">2</text>
<line x1="428.7" y1="497.4" x2="428.7" y2="496.09999999999997" stroke="#3c3c3c" stroke-width="0.9"/>
<clipPath id="clipe"><rect x="262.5" y="364.4" width="166.2" height="133.0"/></clipPath>
<g clip-path="url(#clipe)">
<path d="M263.0,427.7V438.0M265.8,420.3V434.7M266.6,428.9V437.5M267.5,427.5V436.0M268.3,426.3V432.2M269.5,428.4V439.0M270.7,425.1V433.5M271.8,428.4V437.9M272.6,416.7V433.6M273.9,427.0V438.2M274.9,421.8V436.8M275.6,428.4V437.9M276.9,428.2V433.0M277.9,424.6V436.0M279.1,427.9V442.8M279.9,430.0V437.5M281.2,424.7V435.9M282.0,418.4V438.9M282.7,430.6V447.7M283.8,427.3V436.1M284.9,431.2V439.3M287.7,432.1V439.9M290.6,431.0V438.8M292.7,431.8V441.2M294.8,429.4V435.5M297.4,427.3V437.6M299.7,430.6V442.0M301.9,427.8V436.0M304.1,430.8V439.2M305.9,428.9V438.0M308.9,423.7V437.8M311.3,428.9V434.8M313.5,431.0V441.7M315.3,431.8V435.7M317.6,429.6V437.1M320.2,428.7V436.5M322.1,427.9V438.9M324.4,424.6V433.9M326.2,427.2V434.9M328.1,425.3V432.0M330.5,425.2V431.7M333.4,428.5V436.8M336.4,417.5V440.6M338.8,422.3V442.8M339.8,419.2V432.8M340.5,426.6V436.2M341.6,417.0V432.4M342.9,418.1V433.1M343.9,423.4V441.4M345.0,427.9V437.6M345.8,427.4V438.8M346.7,427.8V442.0M347.9,408.9V432.1M349.2,424.2V444.2M350.4,421.3V432.4M351.5,421.8V432.2M352.3,413.4V440.5M353.4,427.8V440.5M354.5,422.9V434.2M355.3,428.8V450.3M356.1,428.1V439.5M358.9,430.4V438.0M360.9,412.7V440.7M363.6,422.6V442.4M366.5,428.2V440.2M368.4,430.0V446.3M371.2,424.8V437.0M373.4,429.5V450.1M375.3,432.7V442.1M377.6,418.5V440.3M379.4,431.8V442.6M381.9,431.0V445.6M383.8,432.5V447.2M386.2,430.3V453.8M388.9,430.5V440.0M390.9,432.8V439.0M393.8,426.6V435.3M395.6,416.9V445.5M397.7,426.4V436.6M400.3,418.2V436.7M402.4,423.6V435.4M404.8,414.3V433.3M407.1,415.7V448.7M409.7,422.1V433.9M412.3,416.3V436.8M414.4,424.9V438.9M416.0,411.1V435.7M417.8,419.0V434.0M420.6,416.8V435.8M422.8,410.1V447.3M425.4,422.0V439.3M427.6,420.7V447.0" stroke="#ff1818" stroke-width="1" fill="none" opacity="0.85"/>
<polyline points="262.5,429.9 263.1,430.0 263.7,429.2 264.3,429.5 264.9,430.1 265.5,430.1 266.1,430.4 266.7,429.7 267.3,430.1 267.9,430.6 268.5,430.3 269.1,430.6 269.7,431.0 270.3,430.3 270.9,430.3 271.5,431.2 272.1,431.0 272.7,430.8 273.3,431.5 273.9,431.1 274.5,431.1 275.1,431.4 275.7,431.2 276.3,431.7 276.9,432.2 277.5,432.0 278.1,432.7 278.7,431.9 279.3,432.1 279.9,432.2 280.5,432.8 281.1,432.5 281.7,433.1 282.3,433.1 282.9,433.3 283.5,433.6 284.1,433.7 284.7,433.9 285.3,433.3 285.9,433.6 286.5,434.3 287.1,433.8 287.7,433.8 288.3,434.0 288.9,433.8 289.5,434.6 290.1,434.4 290.7,433.9 291.3,434.9 291.9,434.5 292.5,434.3 293.1,434.7 293.7,435.0 294.3,434.5 294.9,434.2 295.5,434.4 296.1,434.2 296.7,434.7 297.3,434.5 297.9,435.0 298.5,434.4 299.1,434.2 299.7,434.6 300.3,434.3 300.9,434.4 301.5,434.3 302.1,434.2 302.7,434.6 303.3,434.9 303.9,434.2 304.5,434.4 305.1,434.1 305.7,434.6 306.3,434.1 306.9,433.5 307.5,434.2 308.1,433.5 308.7,433.3 309.3,433.2 309.9,433.9 310.5,433.6 311.1,433.2 311.7,433.3 312.3,433.3 312.9,432.6 313.5,433.1 314.1,433.0 314.7,433.1 315.3,432.1 315.9,432.5 316.5,432.3 317.1,432.5 317.7,431.9 318.3,432.0 318.9,432.1 319.5,431.5 320.1,431.5 320.7,431.8 321.3,430.8 321.9,431.6 322.5,430.8 323.1,430.8 323.7,430.6 324.3,431.0 324.9,430.6 325.5,430.7 326.1,429.9 326.7,430.6 327.3,430.4 327.9,430.2 328.5,429.7 329.1,429.6 329.7,429.7 330.3,429.2 330.9,430.1 331.5,429.4 332.1,429.9 332.7,429.1 333.3,429.5 333.9,429.6 334.5,429.4 335.1,429.1 335.7,428.7 336.3,429.1 336.9,429.0 337.5,429.6 338.1,429.6 338.7,429.6 339.3,429.6 339.9,428.8 340.5,428.6 341.1,428.9 341.7,428.7 342.3,428.8 342.9,429.3 343.5,429.0 344.1,429.4 344.7,429.2 345.3,429.2 345.9,429.9 346.5,429.2 347.1,430.0 347.7,429.7 348.3,429.9 348.9,429.5 349.5,430.2 350.1,430.4 350.7,429.8 351.3,430.2 351.9,430.5 352.5,430.4 353.1,430.8 353.7,430.8 354.3,430.6 354.9,431.1 355.5,431.3 356.1,431.1 356.7,431.3 357.3,431.5 357.9,431.5 358.5,431.2 359.1,431.7 359.7,432.2 360.3,432.2 360.9,431.7 361.5,432.2 362.1,432.5 362.7,432.5 363.3,432.3 363.9,432.9 364.5,433.1 365.1,433.0 365.7,433.5 366.3,433.3 366.9,432.8 367.5,433.2 368.1,433.7 368.7,433.2 369.3,434.2 369.9,434.0 370.5,434.2 371.1,433.7 371.7,433.6 372.3,434.5 372.9,434.3 373.5,434.2 374.1,434.4 374.7,434.7 375.3,434.4 375.9,434.8 376.5,434.2 377.1,435.1 377.7,434.8 378.3,434.5 378.9,434.7 379.5,435.1 380.1,434.5 380.7,434.9 381.3,435.1 381.9,435.1 382.5,434.4 383.1,434.9 383.7,434.7 384.3,434.9 384.9,434.1 385.5,434.4 386.1,434.4 386.7,434.7 387.3,434.3 387.9,433.8 388.5,433.9 389.1,434.5 389.7,434.4 390.3,434.1 390.9,433.5 391.5,434.1 392.1,434.1 392.7,433.4 393.3,433.5 393.9,433.2 394.5,432.8 395.1,433.4 395.7,432.7 396.3,432.5 396.9,433.2 397.5,432.3 398.1,432.9 398.7,432.8 399.3,432.1 399.9,432.1 400.5,431.8 401.1,432.2 401.7,432.3 402.3,432.0 402.9,431.6 403.5,431.5 404.1,431.2 404.7,431.4 405.3,430.9 405.9,430.7 406.5,431.0 407.1,430.5 407.7,431.1 408.3,430.7 408.9,430.1 409.5,429.8 410.1,430.3 410.7,429.7 411.3,430.0 411.9,430.0 412.5,430.1 413.1,429.6 413.7,429.7 414.3,429.9 414.9,429.1 415.5,429.3 416.1,429.7 416.7,429.2 417.3,429.7 417.9,428.8 418.5,428.8 419.1,429.0 419.7,429.1 420.3,429.0 420.9,428.8 421.5,429.1 422.1,429.5 422.7,429.5 423.3,429.2 423.9,428.9 424.5,429.2 425.1,428.8 425.7,428.8 426.3,429.5 426.9,429.0 427.5,429.0 428.1,429.7" fill="none" stroke="#ff1010" stroke-width="2.2" stroke-linejoin="round"/>
<polyline points="262.5,427.8 263.0,425.5 263.5,423.5 264.0,421.7 264.5,419.3 265.0,417.7 265.5,415.7 266.0,414.0 266.5,412.3 267.0,410.6 267.5,408.7 268.0,407.4 268.5,405.7 269.0,404.5 269.5,402.9 270.0,401.3 270.5,400.3 271.0,398.4 271.5,397.0 272.0,395.8 272.5,394.9 273.0,393.3 273.5,392.7 274.0,391.1 274.5,390.2 275.0,389.4 275.5,388.0 276.0,387.4 276.5,386.9 277.0,385.9 277.5,384.9 278.0,384.5 278.5,383.6 279.0,383.1 279.5,382.2 280.0,381.7 280.5,381.4 281.0,381.0 281.5,380.5 282.0,379.8 282.5,379.7 283.0,379.4 283.5,379.1 284.0,378.9 284.5,379.3 285.0,378.8 285.5,378.9 286.0,378.8 286.5,379.4 287.0,379.6 287.5,379.5 288.0,380.5 288.5,380.9 289.0,381.3 289.5,381.9 290.0,382.5 290.5,382.7 291.0,383.7 291.5,384.5 292.0,385.3 292.5,386.7 293.0,387.7 293.5,388.7 294.0,390.1 294.5,391.0 295.0,392.4 295.5,393.6 296.0,395.2 296.5,397.1 297.0,398.4 297.5,400.2 298.0,401.9 298.5,403.5 299.0,405.1 299.5,407.4 300.0,408.6 300.5,410.8 301.0,413.2 301.5,415.2 302.0,417.1 302.5,419.7 303.0,422.0 303.5,424.4 304.0,426.8 304.5,430.2 305.0,433.7 305.5,436.4 306.0,438.6 306.5,441.2 307.0,443.2 307.5,444.9 308.0,447.2 308.5,448.9 309.0,451.1 309.5,452.7 310.0,455.0 310.5,456.3 311.0,458.3 311.5,460.0 312.0,461.3 312.5,463.0 313.0,464.2 313.5,465.8 314.0,467.2 314.5,468.7 315.0,469.9 315.5,470.9 316.0,472.4 316.5,473.5 317.0,474.6 317.5,475.6 318.0,476.8 318.5,477.6 319.0,478.5 319.5,479.2 320.0,479.8 320.5,480.5 321.0,481.4 321.5,481.8 322.0,482.0 322.5,482.6 323.0,482.9 323.5,483.2 324.0,483.7 324.5,483.9 325.0,484.1 325.5,484.0 326.0,484.1 326.5,484.2 327.0,484.0 327.5,483.8 328.0,483.7 328.5,483.5 329.0,482.6 329.5,482.1 330.0,481.8 330.5,481.5 331.0,480.6 331.5,479.6 332.0,479.2 332.5,478.1 333.0,477.2 333.5,476.1 334.0,474.4 334.5,473.3 335.0,472.5 335.5,470.8 336.0,469.8 336.5,467.8 337.0,466.8 337.5,465.0 338.0,463.2 338.5,461.8 339.0,459.8 339.5,457.9 340.0,455.8 340.5,454.3 341.0,451.8 341.5,449.8 342.0,447.5 342.5,445.2 343.0,443.1 343.5,440.5 344.0,438.3 344.5,435.5 345.0,432.2 345.5,429.0 346.0,426.4 346.5,424.1 347.0,422.3 347.5,420.1 348.0,418.0 348.5,416.8 349.0,415.0 349.5,412.8 350.0,411.4 350.5,409.6 351.0,407.8 351.5,406.4 352.0,404.7 352.5,403.2 353.0,401.9 353.5,400.2 354.0,399.0 354.5,398.2 355.0,396.7 355.5,395.2 356.0,394.4 356.5,392.8 357.0,392.1 357.5,390.6 358.0,390.0 358.5,388.7 359.0,388.1 359.5,386.7 360.0,386.0 360.5,385.1 361.0,384.7 361.5,384.0 362.0,382.9 362.5,382.5 363.0,381.7 363.5,381.1 364.0,380.7 364.5,380.3 365.0,380.1 365.5,379.8 366.0,379.9 366.5,379.5 367.0,379.4 367.5,379.0 368.0,378.9 368.5,379.0 369.0,378.9 369.5,378.9 370.0,379.2 370.5,380.0 371.0,379.7 371.5,380.4 372.0,380.7 372.5,381.6 373.0,381.7 373.5,382.8 374.0,383.7 374.5,384.3 375.0,385.0 375.5,386.5 376.0,386.9 376.5,388.6 377.0,389.7 377.5,391.0 378.0,392.3 378.5,393.3 379.0,394.8 379.5,396.2 380.0,397.8 380.5,399.3 381.0,401.2 381.5,402.6 382.0,404.5 382.5,406.0 383.0,407.9 383.5,410.4 384.0,412.0 384.5,414.1 385.0,416.7 385.5,418.7 386.0,420.6 386.5,423.3 387.0,425.8 387.5,428.8 388.0,432.2 388.5,435.0 389.0,438.0 389.5,440.0 390.0,442.2 390.5,444.4 391.0,446.5 391.5,448.1 392.0,450.5 392.5,452.1 393.0,453.7 393.5,455.6 394.0,457.8 394.5,459.3 395.0,461.0 395.5,462.3 396.0,463.9 396.5,465.2 397.0,466.9 397.5,468.1 398.0,469.3 398.5,471.0 399.0,471.9 399.5,472.7 400.0,474.4 400.5,474.9 401.0,476.0 401.5,477.1 402.0,477.8 402.5,478.8 403.0,479.6 403.5,480.3 404.0,481.1 404.5,481.7 405.0,481.8 405.5,482.4 406.0,482.7 406.5,483.3 407.0,483.6 407.5,484.2 408.0,483.8 408.5,484.4 409.0,484.0 409.5,484.4 410.0,484.4 410.5,484.4 411.0,483.8 411.5,483.2 412.0,482.9 412.5,482.6 413.0,482.2 413.5,481.8 414.0,481.1 414.5,479.7 415.0,479.0 415.5,478.4 416.0,477.1 416.5,476.4 417.0,475.2 417.5,474.1 418.0,472.7 418.5,471.8 419.0,469.9 419.5,468.6 420.0,466.9 420.5,465.4 421.0,463.7 421.5,462.4 422.0,460.2 422.5,458.5 423.0,457.0 423.5,455.1 424.0,452.8 424.5,451.0 425.0,448.9 425.5,446.6 426.0,444.3 426.5,442.0 427.0,439.2 427.5,436.6 428.0,433.6 428.5,430.0" fill="none" stroke="#111" stroke-width="2.3" stroke-linejoin="round"/>
</g>
<text x="346" y="519.3" font-size="8.3" fill="#222" text-anchor="middle">Times(ms)</text>
<clipPath id="clipel"><rect x="242.7" y="380" width="12" height="100"/></clipPath>
<g clip-path="url(#clipel)"><text transform="translate(246.6,430.8) rotate(-90)" font-size="8.3" fill="#222" text-anchor="middle">Applied voltage(kV)</text></g>
<text transform="translate(454,430.9) rotate(-90)" font-size="8.3" fill="#ff2020" text-anchor="middle">Current(mA)</text>
<text x="456" y="357.5" font-size="19.5" fill="#000" text-anchor="start" >(f)</text>
<rect x="492.8" y="363.6" width="166.59999999999997" height="134.29999999999995" fill="none" stroke="#3c3c3c" stroke-width="1.1"/>
<line x1="492.8" y1="497.9" x2="495.1" y2="497.9" stroke="#3c3c3c" stroke-width="0.9"/>
<text x="490.2" y="499.8" font-size="7.0" fill="#222" stroke="#222" stroke-width="0.22" text-anchor="end">-6000</text>
<line x1="492.8" y1="486.7" x2="494.1" y2="486.7" stroke="#3c3c3c" stroke-width="0.9"/>
<line x1="492.8" y1="475.5" x2="495.1" y2="475.5" stroke="#3c3c3c" stroke-width="0.9"/>
<text x="490.2" y="477.4" font-size="7.0" fill="#222" stroke="#222" stroke-width="0.22" text-anchor="end">-4000</text>
<line x1="492.8" y1="464.3" x2="494.1" y2="464.3" stroke="#3c3c3c" stroke-width="0.9"/>
<line x1="492.8" y1="453.1" x2="495.1" y2="453.1" stroke="#3c3c3c" stroke-width="0.9"/>
<text x="490.2" y="455.0" font-size="7.0" fill="#222" stroke="#222" stroke-width="0.22" text-anchor="end">-2000</text>
<line x1="492.8" y1="441.9" x2="494.1" y2="441.9" stroke="#3c3c3c" stroke-width="0.9"/>
<line x1="492.8" y1="430.8" x2="495.1" y2="430.8" stroke="#3c3c3c" stroke-width="0.9"/>
<text x="490.2" y="432.6" font-size="7.0" fill="#222" stroke="#222" stroke-width="0.22" text-anchor="end">0</text>
<line x1="492.8" y1="419.6" x2="494.1" y2="419.6" stroke="#3c3c3c" stroke-width="0.9"/>
<line x1="492.8" y1="408.4" x2="495.1" y2="408.4" stroke="#3c3c3c" stroke-width="0.9"/>
<text x="490.2" y="410.3" font-size="7.0" fill="#222" stroke="#222" stroke-width="0.22" text-anchor="end">2000</text>
<line x1="492.8" y1="397.2" x2="494.1" y2="397.2" stroke="#3c3c3c" stroke-width="0.9"/>
<line x1="492.8" y1="386.0" x2="495.1" y2="386.0" stroke="#3c3c3c" stroke-width="0.9"/>
<text x="490.2" y="387.9" font-size="7.0" fill="#222" stroke="#222" stroke-width="0.22" text-anchor="end">4000</text>
<line x1="492.8" y1="374.8" x2="494.1" y2="374.8" stroke="#3c3c3c" stroke-width="0.9"/>
<line x1="492.8" y1="363.6" x2="495.1" y2="363.6" stroke="#3c3c3c" stroke-width="0.9"/>
<text x="490.2" y="365.5" font-size="7.0" fill="#222" stroke="#222" stroke-width="0.22" text-anchor="end">6000</text>
<line x1="492.8" y1="497.9" x2="492.8" y2="495.59999999999997" stroke="#3c3c3c" stroke-width="0.9"/>
<text x="492.8" y="506.9" font-size="7.0" fill="#222" stroke="#222" stroke-width="0.22" text-anchor="middle">-20</text>
<line x1="503.2" y1="497.9" x2="503.2" y2="496.59999999999997" stroke="#3c3c3c" stroke-width="0.9"/>
<line x1="513.6" y1="497.9" x2="513.6" y2="495.59999999999997" stroke="#3c3c3c" stroke-width="0.9"/>
<text x="513.6" y="506.9" font-size="7.0" fill="#222" stroke="#222" stroke-width="0.22" text-anchor="middle">-15</text>
<line x1="524.0" y1="497.9" x2="524.0" y2="496.59999999999997" stroke="#3c3c3c" stroke-width="0.9"/>
<line x1="534.5" y1="497.9" x2="534.5" y2="495.59999999999997" stroke="#3c3c3c" stroke-width="0.9"/>
<text x="534.5" y="506.9" font-size="7.0" fill="#222" stroke="#222" stroke-width="0.22" text-anchor="middle">-10</text>
<line x1="544.9" y1="497.9" x2="544.9" y2="496.59999999999997" stroke="#3c3c3c" stroke-width="0.9"/>
<line x1="555.3" y1="497.9" x2="555.3" y2="495.59999999999997" stroke="#3c3c3c" stroke-width="0.9"/>
<text x="555.3" y="506.9" font-size="7.0" fill="#222" stroke="#222" stroke-width="0.22" text-anchor="middle">-5</text>
<line x1="565.7" y1="497.9" x2="565.7" y2="496.59999999999997" stroke="#3c3c3c" stroke-width="0.9"/>
<line x1="576.1" y1="497.9" x2="576.1" y2="495.59999999999997" stroke="#3c3c3c" stroke-width="0.9"/>
<text x="576.1" y="506.9" font-size="7.0" fill="#222" stroke="#222" stroke-width="0.22" text-anchor="middle">0</text>
<line x1="586.5" y1="497.9" x2="586.5" y2="496.59999999999997" stroke="#3c3c3c" stroke-width="0.9"/>
<line x1="596.9" y1="497.9" x2="596.9" y2="495.59999999999997" stroke="#3c3c3c" stroke-width="0.9"/>
<text x="596.9" y="506.9" font-size="7.0" fill="#222" stroke="#222" stroke-width="0.22" text-anchor="middle">5</text>
<line x1="607.3" y1="497.9" x2="607.3" y2="496.59999999999997" stroke="#3c3c3c" stroke-width="0.9"/>
<line x1="617.8" y1="497.9" x2="617.8" y2="495.59999999999997" stroke="#3c3c3c" stroke-width="0.9"/>
<text x="617.8" y="506.9" font-size="7.0" fill="#222" stroke="#222" stroke-width="0.22" text-anchor="middle">10</text>
<line x1="628.2" y1="497.9" x2="628.2" y2="496.59999999999997" stroke="#3c3c3c" stroke-width="0.9"/>
<line x1="638.6" y1="497.9" x2="638.6" y2="495.59999999999997" stroke="#3c3c3c" stroke-width="0.9"/>
<text x="638.6" y="506.9" font-size="7.0" fill="#222" stroke="#222" stroke-width="0.22" text-anchor="middle">15</text>
<line x1="649.0" y1="497.9" x2="649.0" y2="496.59999999999997" stroke="#3c3c3c" stroke-width="0.9"/>
<line x1="659.4" y1="497.9" x2="659.4" y2="495.59999999999997" stroke="#3c3c3c" stroke-width="0.9"/>
<text x="659.4" y="506.9" font-size="7.0" fill="#222" stroke="#222" stroke-width="0.22" text-anchor="middle">20</text>
<text x="576.2" y="519.5" font-size="8.3" fill="#222" text-anchor="middle">Applied voltage(kV)</text>
<text transform="translate(471.5,430.5) rotate(-90)" font-size="8.3" fill="#222" text-anchor="middle">Charge(nC)</text>
<polyline points="507.1,476.5 507.7,475.6 508.6,473.8 508.5,473.3 509.6,471.0 511.3,469.6 512.0,467.9 512.6,465.6 513.5,464.6 514.3,462.6 515.4,459.9 516.3,458.8 516.6,456.4 518.0,455.3 518.6,454.1 519.4,452.5 519.8,450.6 520.6,449.1 521.9,446.4 521.7,444.8 523.4,443.5 523.7,441.8 524.3,440.4 524.7,439.3 525.6,438.5 526.3,437.4 527.0,436.5 527.3,434.6 528.0,434.7 528.4,433.5 528.6,432.3 529.2,432.1 528.9,430.9 530.0,431.4 529.5,430.6 530.3,429.2 530.6,429.3 531.7,427.9 531.8,427.3 532.3,427.1 532.8,427.4 532.8,426.9 532.9,425.3 533.7,424.8 533.6,424.8 534.5,424.1 534.3,424.5 535.2,424.2 536.5,423.1 536.6,422.8 537.5,422.5 538.1,422.1 539.3,421.6 539.5,421.4 540.0,420.5 541.8,420.4 542.1,419.4 542.8,419.8 543.2,419.4 544.8,418.4 545.7,418.6 546.6,418.1 547.5,418.2 547.6,417.1 549.3,417.9 549.7,417.0 551.1,416.6 551.7,416.3 552.7,416.3 553.6,415.8 555.2,415.0 556.0,415.5 556.7,414.6 558.3,414.2 558.5,414.1 560.0,413.3 560.5,413.1 562.1,412.8 563.1,412.1 563.5,412.2 565.2,411.5 565.6,410.6 567.3,410.2 569.1,410.5 569.9,409.2 572.4,409.1 574.3,408.1 575.6,407.4 578.6,406.7 580.3,406.2 582.7,405.5 585.7,404.5 587.0,404.7 590.5,404.1 592.3,403.4 595.2,401.8 597.3,401.9 599.5,400.9 601.3,400.0 603.6,399.1 606.4,398.7 609.1,397.8 611.5,398.0 613.9,397.6 616.1,396.7 617.3,396.3 619.6,395.1 622.1,394.8 623.7,394.7 625.7,393.4 627.0,393.4 628.9,392.7 630.3,391.4 632.0,391.5 633.0,390.8 635.3,390.2 636.4,388.7 637.3,389.2 637.6,388.0 638.8,387.9 639.8,387.5 640.9,386.6 640.5,386.4 640.9,386.1 642.2,386.8 641.2,386.2 641.5,385.8 641.5,386.1 641.8,385.7 641.2,385.7 641.0,386.0 641.7,385.9 640.9,385.8 641.2,386.5 641.7,386.6 641.7,387.2 641.2,387.3 641.2,388.1 641.0,388.6 641.0,388.6 640.9,389.7 640.2,389.9 640.4,391.1 640.8,391.2 640.5,392.3 639.4,392.7 638.9,393.8 639.2,394.6 638.9,395.1 638.4,395.8 637.2,396.7 636.6,397.1 637.0,397.9 635.7,398.9 636.1,400.1 634.5,402.0 634.0,403.2 634.1,404.5 633.9,405.6 633.0,406.4 632.3,408.6 631.6,409.7 631.0,412.3 629.4,413.3 629.3,415.6 628.3,416.4 627.6,418.6 627.5,419.9 626.3,421.4 625.6,422.9 624.6,424.5 624.9,425.9 623.9,427.2 623.1,429.4 622.3,430.6 621.4,432.2 621.2,432.9 619.6,434.9 619.9,435.8 618.8,437.0 618.0,437.3 617.7,438.4 617.6,438.4 618.0,439.5 617.5,439.4 617.6,439.6 617.9,438.9 617.4,438.6 617.6,439.0 617.1,439.0 616.9,439.5 616.1,440.0 615.8,439.8 614.8,440.5 614.1,440.7 612.4,441.4 611.5,441.6 609.8,442.8 607.9,442.6 605.9,443.8 604.7,444.8 603.1,444.6 600.4,445.3 598.5,446.6 597.4,447.5 594.7,448.2 592.6,448.4 590.8,448.8 587.7,450.5 585.5,450.8 583.4,452.1 580.3,452.5 578.4,453.5 575.9,454.4 574.6,454.9 572.1,455.2 570.0,456.5 568.3,457.3 567.9,456.7 566.9,457.4 565.7,458.1 564.2,458.3 563.8,458.7 562.5,458.8 562.4,459.0 560.9,458.6 559.7,459.2 558.7,460.0 557.0,459.9 555.3,461.1 552.7,462.1 551.1,461.9 549.1,462.7 546.0,464.3 543.9,464.9 541.5,465.7 538.6,466.2 535.9,467.7 534.5,468.3 532.3,468.9 529.8,469.6 528.7,469.8 526.5,470.6 525.1,471.4 523.0,472.0 521.6,473.0 519.9,473.6 518.2,473.4 516.8,473.7 516.3,474.8 514.4,474.6 513.6,475.6 513.1,475.9 511.9,475.4 510.9,475.7 510.4,476.3 509.5,476.0 509.7,475.8 509.3,476.8 509.2,476.2 508.4,476.5 508.2,476.9 508.1,476.1 508.0,476.4 507.5,476.7" fill="none" stroke="#1c1cf2" stroke-width="4.0" stroke-linejoin="round"/>
<path d="M504.3,477.6h1.8M505.2,476.7v1.8M508.2,474.2h1.8M509.1,473.3v1.8M509.1,471.2h1.8M510.0,470.3v1.8M509.3,468.0h1.8M510.2,467.1v1.8M510.4,464.2h1.8M511.3,463.3v1.8M514.9,460.2h1.8M515.8,459.3v1.8M516.2,459.0h1.8M517.1,458.1v1.8M519.2,452.1h1.8M520.1,451.2v1.8M520.3,450.8h1.8M521.2,449.9v1.8M518.5,446.2h1.8M519.4,445.3v1.8M520.8,441.7h1.8M521.7,440.8v1.8M523.5,442.5h1.8M524.4,441.6v1.8M523.8,439.6h1.8M524.7,438.7v1.8M526.5,434.3h1.8M527.4,433.4v1.8M528.2,434.6h1.8M529.1,433.7v1.8M529.3,433.6h1.8M530.2,432.7v1.8M529.3,430.7h1.8M530.2,429.8v1.8M530.4,432.1h1.8M531.3,431.2v1.8M531.5,428.7h1.8M532.4,427.8v1.8M531.9,427.8h1.8M532.8,426.9v1.8M529.8,424.8h1.8M530.7,423.9v1.8M530.4,424.5h1.8M531.3,423.6v1.8M531.6,424.9h1.8M532.5,424.0v1.8M534.9,424.2h1.8M535.8,423.3v1.8M534.8,423.9h1.8M535.7,423.0v1.8M535.6,422.2h1.8M536.5,421.3v1.8M539.0,421.1h1.8M539.9,420.2v1.8M538.1,422.5h1.8M539.0,421.6v1.8M542.1,419.4h1.8M543.0,418.5v1.8M542.3,419.4h1.8M543.2,418.5v1.8M545.0,417.4h1.8M545.9,416.5v1.8M544.2,416.7h1.8M545.1,415.8v1.8M549.4,415.8h1.8M550.3,414.9v1.8M549.9,415.5h1.8M550.8,414.6v1.8M550.7,414.8h1.8M551.6,413.9v1.8M553.5,414.1h1.8M554.4,413.2v1.8M553.9,413.2h1.8M554.8,412.3v1.8M556.5,414.1h1.8M557.4,413.2v1.8M557.9,411.2h1.8M558.8,410.3v1.8M561.5,412.1h1.8M562.4,411.2v1.8M564.8,409.6h1.8M565.7,408.7v1.8M565.9,410.1h1.8M566.8,409.2v1.8M567.3,411.5h1.8M568.2,410.6v1.8M571.8,406.5h1.8M572.7,405.6v1.8M577.2,405.5h1.8M578.1,404.6v1.8M582.5,404.9h1.8M583.4,404.0v1.8M585.0,402.2h1.8M585.9,401.3v1.8M592.5,401.8h1.8M593.4,400.9v1.8M597.4,401.3h1.8M598.3,400.4v1.8M602.6,399.4h1.8M603.5,398.5v1.8M604.3,398.0h1.8M605.2,397.1v1.8M611.5,398.3h1.8M612.4,397.4v1.8M614.1,394.8h1.8M615.0,393.9v1.8M619.9,397.4h1.8M620.8,396.5v1.8M623.3,392.0h1.8M624.2,391.1v1.8M624.3,391.2h1.8M625.2,390.3v1.8M628.1,389.7h1.8M629.0,388.8v1.8M630.6,391.2h1.8M631.5,390.3v1.8M636.9,388.0h1.8M637.8,387.1v1.8M639.4,388.2h1.8M640.3,387.3v1.8M640.3,389.3h1.8M641.2,388.4v1.8M642.1,384.8h1.8M643.0,383.9v1.8M639.8,386.9h1.8M640.7,386.0v1.8M642.8,384.3h1.8M643.7,383.4v1.8M639.8,387.4h1.8M640.7,386.5v1.8M638.9,385.5h1.8M639.8,384.6v1.8M639.8,387.0h1.8M640.7,386.1v1.8M642.4,385.3h1.8M643.3,384.4v1.8M641.5,388.5h1.8M642.4,387.6v1.8M641.7,388.6h1.8M642.6,387.7v1.8M641.8,388.8h1.8M642.7,387.9v1.8M639.2,389.5h1.8M640.1,388.6v1.8M640.3,391.9h1.8M641.2,391.0v1.8M637.4,392.0h1.8M638.3,391.1v1.8M638.6,395.4h1.8M639.5,394.5v1.8M637.7,396.1h1.8M638.6,395.2v1.8M635.7,396.9h1.8M636.6,396.0v1.8M635.6,398.4h1.8M636.5,397.5v1.8M633.5,403.9h1.8M634.4,403.0v1.8M633.2,403.7h1.8M634.1,402.8v1.8M630.0,410.1h1.8M630.9,409.2v1.8M630.4,413.5h1.8M631.3,412.6v1.8M630.0,414.9h1.8M630.9,414.0v1.8M628.7,419.5h1.8M629.6,418.6v1.8M624.9,420.9h1.8M625.8,420.0v1.8M622.3,424.1h1.8M623.2,423.2v1.8M624.7,425.8h1.8M625.6,424.9v1.8M621.5,428.9h1.8M622.4,428.0v1.8M618.0,434.0h1.8M618.9,433.1v1.8M617.4,433.8h1.8M618.3,432.9v1.8M616.0,438.2h1.8M616.9,437.3v1.8M617.3,436.6h1.8M618.2,435.7v1.8M615.6,441.2h1.8M616.5,440.3v1.8M615.6,439.5h1.8M616.5,438.6v1.8M616.4,440.4h1.8M617.3,439.5v1.8M616.7,440.5h1.8M617.6,439.6v1.8M615.1,438.3h1.8M616.0,437.4v1.8M611.4,438.7h1.8M612.3,437.8v1.8M611.6,440.0h1.8M612.5,439.1v1.8M604.9,445.0h1.8M605.8,444.1v1.8M602.2,446.0h1.8M603.1,445.1v1.8M598.1,445.5h1.8M599.0,444.6v1.8M594.9,448.4h1.8M595.8,447.5v1.8M592.5,449.1h1.8M593.4,448.2v1.8M588.4,451.8h1.8M589.3,450.9v1.8M581.7,452.3h1.8M582.6,451.4v1.8M577.4,451.8h1.8M578.3,450.9v1.8M574.6,455.4h1.8M575.5,454.5v1.8M570.8,455.0h1.8M571.7,454.1v1.8M566.7,457.1h1.8M567.6,456.2v1.8M565.4,456.0h1.8M566.3,455.1v1.8M562.0,458.2h1.8M562.9,457.3v1.8M559.1,459.0h1.8M560.0,458.1v1.8M559.9,459.0h1.8M560.8,458.1v1.8M556.7,460.8h1.8M557.6,459.9v1.8M550.9,460.9h1.8M551.8,460.0v1.8M549.9,462.4h1.8M550.8,461.5v1.8M542.5,463.1h1.8M543.4,462.2v1.8M536.7,465.2h1.8M537.6,464.3v1.8M535.2,469.3h1.8M536.1,468.4v1.8M530.8,471.8h1.8M531.7,470.9v1.8M526.1,472.8h1.8M527.0,471.9v1.8M522.4,471.8h1.8M523.3,470.9v1.8M521.1,475.0h1.8M522.0,474.1v1.8M518.3,474.1h1.8M519.2,473.2v1.8M515.1,474.5h1.8M516.0,473.6v1.8M514.0,477.4h1.8M514.9,476.5v1.8M509.2,477.9h1.8M510.1,477.0v1.8M507.6,474.5h1.8M508.5,473.6v1.8M509.0,475.5h1.8M509.9,474.6v1.8M507.5,477.0h1.8M508.4,476.1v1.8M504.9,477.5h1.8M505.8,476.6v1.8M505.5,476.1h1.8M506.4,475.2v1.8" stroke="#1c1cf2" stroke-width="0.6" fill="none"/>
<polyline points="507.1,479.9 507.6,479.3 507.6,478.9 509.1,478.4 509.4,476.7 509.7,475.6 509.9,474.2 510.5,474.0 511.9,472.5 512.5,470.5 512.6,469.7 513.8,468.7 514.6,466.5 514.8,466.0 515.3,464.1 515.9,462.6 517.1,462.2 517.3,460.1 518.3,459.1 519.0,458.0 519.2,456.1 520.0,454.8 520.2,453.3 521.7,451.7 521.6,451.2 522.6,449.8 523.7,448.4 525.2,447.0 525.4,445.8 526.5,444.7 527.1,444.1 528.0,442.7 529.6,441.1 529.5,440.2 531.3,439.6 531.6,438.3 532.4,437.6 533.1,437.0 535.0,436.5 535.7,435.8 535.7,434.3 537.7,434.2 537.9,433.8 539.0,433.0 539.5,431.7 540.6,431.0 541.4,431.4 542.3,429.7 543.0,429.2 544.9,428.8 545.3,427.7 547.2,427.4 547.4,426.3 548.4,425.7 550.2,425.0 550.6,424.7 552.0,424.6 553.0,423.4 555.0,422.6 556.4,422.1 556.6,421.4 557.4,420.9 558.7,421.0 560.3,420.1 560.3,419.5 561.5,419.1 562.4,419.6 563.3,418.3 565.4,418.5 566.6,417.9 567.8,417.7 569.1,417.2 570.3,415.7 571.8,415.8 574.6,415.0 576.2,413.6 579.1,412.5 581.6,411.2 583.9,410.2 585.9,409.3 589.2,407.1 591.5,407.0 593.4,404.8 595.7,403.9 597.6,403.7 598.0,402.3 600.1,402.1 601.5,401.8 602.0,400.1 603.9,399.5 604.8,399.1 605.6,399.4 606.6,398.6 607.5,397.7 608.2,397.3 609.4,397.4 610.0,396.5 610.6,395.4 612.4,395.4 613.8,395.0 614.1,394.2 616.0,393.9 616.2,393.8 618.3,392.4 619.2,392.2 620.6,391.7 621.1,391.4 623.2,390.5 623.3,390.6 625.5,390.0 626.3,390.0 628.0,388.5 629.6,388.2 630.3,388.5 631.8,388.0 632.8,387.6 634.1,386.4 635.7,386.2 636.8,386.5 638.0,385.2 638.3,385.6 639.1,385.6 639.6,384.6 639.6,385.4 640.0,385.2 640.9,385.0 640.6,385.0 640.2,385.3 640.3,385.4 640.1,385.4 640.6,385.1 640.2,384.7 640.6,385.0 640.5,384.9 639.9,385.0 640.8,385.3 640.9,385.7 640.4,385.9 640.5,385.8 640.1,387.1 639.8,387.0 639.9,387.0 639.4,387.0 640.3,388.4 640.0,388.9 639.9,388.6 639.2,389.6 639.0,390.8 638.9,391.5 637.8,391.9 638.1,392.7 637.7,393.6 636.9,394.5 636.7,395.0 636.8,396.0 635.7,396.3 635.3,397.7 635.6,398.9 634.4,399.3 634.4,400.2 633.4,400.9 632.6,402.6 632.7,403.8 631.7,405.3 631.5,405.4 630.2,407.5 630.8,408.5 629.7,408.8 628.5,409.7 628.1,411.5 628.3,412.3 626.8,412.6 626.4,414.4 625.6,415.1 625.7,415.7 625.4,416.3 624.2,417.1 623.1,417.8 622.7,418.8 621.7,420.7 621.2,421.5 621.0,422.2 620.3,423.3 619.8,423.9 618.7,424.7 618.2,425.4 617.2,425.8 616.8,427.0 615.1,427.5 615.2,428.4 613.7,429.7 613.4,430.0 611.9,430.9 610.5,432.2 609.5,432.9 608.7,432.6 608.6,434.0 606.9,434.3 606.1,435.1 604.7,435.8 604.4,436.3 603.1,437.2 601.0,437.8 600.1,438.3 597.5,439.1 596.7,439.7 594.3,441.4 592.1,441.5 589.9,442.8 587.8,444.5 584.7,446.0 582.6,446.5 580.4,448.3 578.0,449.5 575.2,450.4 572.7,451.3 570.9,452.1 567.5,453.5 565.7,454.3 563.5,454.9 560.7,455.6 559.1,457.5 556.7,457.4 554.8,459.2 552.0,459.0 550.2,460.6 547.8,460.7 545.8,461.6 543.5,462.6 541.3,464.3 539.8,465.0 537.4,465.3 535.8,465.7 533.8,467.6 532.3,468.3 530.0,468.9 528.9,469.7 526.8,469.8 524.6,471.4 524.1,471.4 522.4,472.3 520.7,473.6 518.9,474.1 517.3,474.7 515.6,475.2 514.5,476.7 513.0,477.3 511.6,478.3 510.6,477.9 509.5,479.5 509.1,480.0 508.1,479.6 507.2,480.3" fill="none" stroke="#f04444" stroke-width="4.4" stroke-linejoin="round"/>
<path d="M508.7,478.9h1.8M509.6,478.0v1.8M506.1,480.5h1.8M507.0,479.6v1.8M506.5,479.1h1.8M507.4,478.2v1.8M508.5,475.0h1.8M509.4,474.1v1.8M511.3,473.9h1.8M512.2,473.0v1.8M510.1,471.1h1.8M511.0,470.2v1.8M511.8,468.0h1.8M512.7,467.1v1.8M512.3,465.6h1.8M513.2,464.7v1.8M514.3,460.5h1.8M515.2,459.6v1.8M514.9,458.2h1.8M515.8,457.3v1.8M517.5,458.4h1.8M518.4,457.5v1.8M520.2,452.9h1.8M521.1,452.0v1.8M523.4,449.6h1.8M524.3,448.7v1.8M521.6,450.6h1.8M522.5,449.7v1.8M526.6,447.0h1.8M527.5,446.1v1.8M528.5,441.9h1.8M529.4,441.0v1.8M530.0,442.5h1.8M530.9,441.6v1.8M530.8,441.0h1.8M531.7,440.1v1.8M530.2,436.3h1.8M531.1,435.4v1.8M532.1,435.9h1.8M533.0,435.0v1.8M535.6,434.7h1.8M536.5,433.8v1.8M536.5,434.3h1.8M537.4,433.4v1.8M540.3,433.2h1.8M541.2,432.3v1.8M538.6,429.3h1.8M539.5,428.4v1.8M541.4,428.4h1.8M542.3,427.5v1.8M545.0,426.9h1.8M545.9,426.0v1.8M547.4,426.1h1.8M548.3,425.2v1.8M548.5,426.3h1.8M549.4,425.4v1.8M553.4,422.6h1.8M554.3,421.7v1.8M553.1,424.8h1.8M554.0,423.9v1.8M554.7,419.4h1.8M555.6,418.5v1.8M556.7,422.0h1.8M557.6,421.1v1.8M561.0,421.7h1.8M561.9,420.8v1.8M561.9,417.1h1.8M562.8,416.2v1.8M563.1,419.4h1.8M564.0,418.5v1.8M565.9,415.9h1.8M566.8,415.0v1.8M568.9,416.0h1.8M569.8,415.1v1.8M572.6,414.2h1.8M573.5,413.3v1.8M576.2,410.2h1.8M577.1,409.3v1.8M584.0,411.0h1.8M584.9,410.1v1.8M587.4,405.9h1.8M588.3,405.0v1.8M591.4,405.6h1.8M592.3,404.7v1.8M597.8,403.4h1.8M598.7,402.5v1.8M601.1,402.1h1.8M602.0,401.2v1.8M600.0,401.2h1.8M600.9,400.3v1.8M603.8,400.0h1.8M604.7,399.1v1.8M606.2,396.4h1.8M607.1,395.5v1.8M606.8,398.9h1.8M607.7,398.0v1.8M607.5,394.5h1.8M608.4,393.6v1.8M609.9,394.5h1.8M610.8,393.6v1.8M613.3,393.6h1.8M614.2,392.7v1.8M616.5,391.9h1.8M617.4,391.0v1.8M617.5,393.2h1.8M618.4,392.3v1.8M620.7,393.4h1.8M621.6,392.5v1.8M624.8,389.4h1.8M625.7,388.5v1.8M624.7,389.7h1.8M625.6,388.8v1.8M628.4,388.0h1.8M629.3,387.1v1.8M632.6,386.3h1.8M633.5,385.4v1.8M633.5,385.1h1.8M634.4,384.2v1.8M637.6,386.5h1.8M638.5,385.6v1.8M639.7,383.9h1.8M640.6,383.0v1.8M639.6,385.6h1.8M640.5,384.7v1.8M637.3,386.3h1.8M638.2,385.4v1.8M641.1,383.0h1.8M642.0,382.1v1.8M641.4,386.1h1.8M642.3,385.2v1.8M639.9,385.2h1.8M640.8,384.3v1.8M638.4,383.3h1.8M639.3,382.4v1.8M639.4,387.1h1.8M640.3,386.2v1.8M638.2,385.7h1.8M639.1,384.8v1.8M638.5,387.1h1.8M639.4,386.2v1.8M641.3,388.6h1.8M642.2,387.7v1.8M638.1,387.2h1.8M639.0,386.3v1.8M636.5,388.6h1.8M637.4,387.7v1.8M639.8,391.1h1.8M640.7,390.2v1.8M635.8,390.7h1.8M636.7,389.8v1.8M635.2,392.1h1.8M636.1,391.2v1.8M638.1,393.1h1.8M639.0,392.2v1.8M637.0,397.7h1.8M637.9,396.8v1.8M636.0,396.2h1.8M636.9,395.3v1.8M635.5,401.3h1.8M636.4,400.4v1.8M634.8,399.3h1.8M635.7,398.4v1.8M629.4,402.7h1.8M630.3,401.8v1.8M630.5,405.5h1.8M631.4,404.6v1.8M627.5,408.6h1.8M628.4,407.7v1.8M628.8,410.6h1.8M629.7,409.7v1.8M627.0,412.1h1.8M627.9,411.2v1.8M626.6,411.9h1.8M627.5,411.0v1.8M624.3,414.1h1.8M625.2,413.2v1.8M621.5,418.6h1.8M622.4,417.7v1.8M621.2,418.5h1.8M622.1,417.6v1.8M619.6,421.4h1.8M620.5,420.5v1.8M617.5,423.4h1.8M618.4,422.5v1.8M615.9,426.5h1.8M616.8,425.6v1.8M614.7,427.4h1.8M615.6,426.5v1.8M614.9,427.5h1.8M615.8,426.6v1.8M612.1,428.8h1.8M613.0,427.9v1.8M612.2,431.1h1.8M613.1,430.2v1.8M609.3,431.3h1.8M610.2,430.4v1.8M607.8,432.2h1.8M608.7,431.3v1.8M605.2,435.5h1.8M606.1,434.6v1.8M603.1,436.4h1.8M604.0,435.5v1.8M600.6,436.0h1.8M601.5,435.1v1.8M599.1,439.8h1.8M600.0,438.9v1.8M594.3,442.9h1.8M595.2,442.0v1.8M588.6,442.4h1.8M589.5,441.5v1.8M583.2,444.7h1.8M584.1,443.8v1.8M578.2,447.1h1.8M579.1,446.2v1.8M572.8,450.1h1.8M573.7,449.2v1.8M568.5,451.7h1.8M569.4,450.8v1.8M565.5,453.4h1.8M566.4,452.5v1.8M561.8,457.4h1.8M562.7,456.5v1.8M554.9,459.4h1.8M555.8,458.5v1.8M549.7,457.8h1.8M550.6,456.9v1.8M548.9,459.3h1.8M549.8,458.4v1.8M540.4,464.6h1.8M541.3,463.7v1.8M536.5,465.3h1.8M537.4,464.4v1.8M535.1,465.1h1.8M536.0,464.2v1.8M530.0,469.9h1.8M530.9,469.0v1.8M527.2,468.3h1.8M528.1,467.4v1.8M524.1,472.0h1.8M525.0,471.1v1.8M520.3,470.6h1.8M521.2,469.7v1.8M519.5,472.1h1.8M520.4,471.2v1.8M513.3,473.3h1.8M514.2,472.4v1.8M514.7,476.7h1.8M515.6,475.8v1.8M511.1,478.6h1.8M512.0,477.7v1.8M510.1,478.9h1.8M511.0,478.0v1.8M505.8,481.2h1.8M506.7,480.3v1.8" stroke="#f04444" stroke-width="0.6" fill="none"/>
<line x1="499.7" y1="370.2" x2="514.6" y2="370.2" stroke="#1c1cf2" stroke-width="1.2"/>
<line x1="499.7" y1="379" x2="514.6" y2="379" stroke="#f04444" stroke-width="1.2"/>
<text x="516.6" y="372.7" font-size="7.6" fill="#222" text-anchor="start" >without GTR particles</text>
<text x="516.6" y="381.5" font-size="7.6" fill="#222" text-anchor="start" >with GTR particles</text>
</svg>
</body></html>
